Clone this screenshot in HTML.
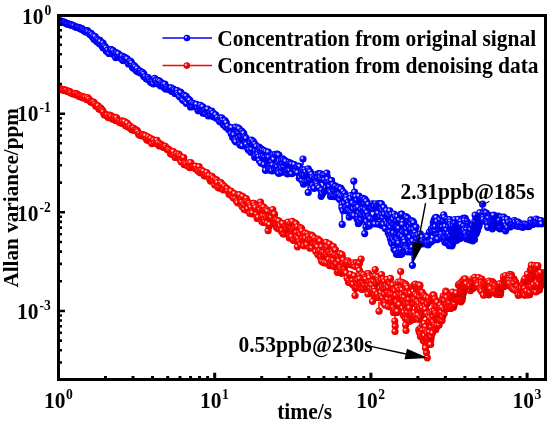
<!DOCTYPE html><html><head><meta charset="utf-8"><style>html,body{margin:0;padding:0;background:#fff;width:550px;height:424px;overflow:hidden}</style></head><body><svg width="550" height="424" viewBox="0 0 550 424" style="display:block"><defs>
<radialGradient id="gb" cx="0.36" cy="0.36" r="0.6"><stop offset="0" stop-color="#ffffff"/><stop offset="0.2" stop-color="#9090ff"/><stop offset="0.42" stop-color="#0000ff"/><stop offset="0.85" stop-color="#0000f4"/><stop offset="1" stop-color="#0000d0"/></radialGradient>
<radialGradient id="gr" cx="0.36" cy="0.36" r="0.6"><stop offset="0" stop-color="#ffffff"/><stop offset="0.2" stop-color="#ff9090"/><stop offset="0.42" stop-color="#ff0000"/><stop offset="0.85" stop-color="#f40000"/><stop offset="1" stop-color="#d00000"/></radialGradient>
<clipPath id="cp"><rect x="60" y="17" width="484" height="361"/></clipPath>
</defs><rect width="550" height="424" fill="#fff"/><g clip-path="url(#cp)"><path d="M261.4 204.4L260.5 202.2M269.6 228.4L268.1 230.7M271.7 212.9L272.7 209.5M297.6 243.0L297.4 246.8M361.9 264.7L361.1 259.0M371.2 296.1L372.5 301.3M375.3 274.6L375.2 269.5M382.8 278.2L381.5 274.5M392.0 281.8L390.5 278.4M429.6 341.4L430.6 344.5M426.5 352.5L427.3 357.8M425.5 348.0L426.5 352.5M425.0 344.0L425.5 348.0M395.0 318.0L395.0 331.5M395.0 318.0L395.2 326.0M395.0 316.0L394.8 321.0M405.5 320.0L406.0 330.5M405.5 320.0L405.6 325.0M379.0 302.0L379.0 311.2M400.0 280.0L400.6 271.5M355.0 288.0L355.0 295.5" stroke="#ff0000" stroke-width="1.6" fill="none"/><g fill="url(#gr)"><circle cx="58.2" cy="88.3" r="3.6"/><circle cx="58.9" cy="88.9" r="3.6"/><circle cx="59.7" cy="88.8" r="3.6"/><circle cx="60.8" cy="89.0" r="3.6"/><circle cx="61.3" cy="89.2" r="3.6"/><circle cx="62.6" cy="89.6" r="3.6"/><circle cx="62.7" cy="90.0" r="3.6"/><circle cx="63.8" cy="89.7" r="3.6"/><circle cx="64.4" cy="89.9" r="3.6"/><circle cx="64.9" cy="90.5" r="3.6"/><circle cx="65.8" cy="90.7" r="3.6"/><circle cx="66.5" cy="90.4" r="3.6"/><circle cx="67.5" cy="91.5" r="3.6"/><circle cx="68.6" cy="91.4" r="3.6"/><circle cx="69.0" cy="91.6" r="3.6"/><circle cx="69.8" cy="91.5" r="3.6"/><circle cx="70.3" cy="92.7" r="3.6"/><circle cx="70.9" cy="93.0" r="3.6"/><circle cx="72.7" cy="93.6" r="3.6"/><circle cx="73.2" cy="94.0" r="3.6"/><circle cx="74.3" cy="93.8" r="3.6"/><circle cx="75.0" cy="93.4" r="3.6"/><circle cx="75.7" cy="93.7" r="3.6"/><circle cx="76.9" cy="95.2" r="3.6"/><circle cx="77.3" cy="94.2" r="3.6"/><circle cx="78.4" cy="95.4" r="3.6"/><circle cx="79.0" cy="96.2" r="3.6"/><circle cx="79.5" cy="96.3" r="3.6"/><circle cx="80.6" cy="96.8" r="3.6"/><circle cx="81.0" cy="96.1" r="3.6"/><circle cx="81.9" cy="96.9" r="3.6"/><circle cx="82.6" cy="96.6" r="3.6"/><circle cx="83.0" cy="97.8" r="3.6"/><circle cx="83.8" cy="97.0" r="3.6"/><circle cx="84.7" cy="97.5" r="3.6"/><circle cx="85.2" cy="97.5" r="3.6"/><circle cx="86.5" cy="99.3" r="3.6"/><circle cx="86.7" cy="99.2" r="3.6"/><circle cx="87.6" cy="97.7" r="3.6"/><circle cx="88.5" cy="100.1" r="3.6"/><circle cx="89.0" cy="99.2" r="3.6"/><circle cx="90.4" cy="101.1" r="3.6"/><circle cx="91.0" cy="102.2" r="3.6"/><circle cx="91.4" cy="101.8" r="3.6"/><circle cx="92.0" cy="102.5" r="3.6"/><circle cx="92.7" cy="102.2" r="3.6"/><circle cx="93.7" cy="102.2" r="3.6"/><circle cx="94.6" cy="104.2" r="3.6"/><circle cx="95.0" cy="104.1" r="3.6"/><circle cx="95.8" cy="106.2" r="3.6"/><circle cx="97.0" cy="105.3" r="3.6"/><circle cx="97.3" cy="106.0" r="3.6"/><circle cx="98.1" cy="105.9" r="3.6"/><circle cx="98.9" cy="109.0" r="3.6"/><circle cx="99.9" cy="109.3" r="3.6"/><circle cx="100.7" cy="108.0" r="3.6"/><circle cx="101.1" cy="108.8" r="3.6"/><circle cx="101.9" cy="109.9" r="3.6"/><circle cx="102.7" cy="110.7" r="3.6"/><circle cx="103.2" cy="112.2" r="3.6"/><circle cx="104.2" cy="114.8" r="3.6"/><circle cx="105.2" cy="114.5" r="3.6"/><circle cx="105.9" cy="114.9" r="3.6"/><circle cx="106.5" cy="115.1" r="3.6"/><circle cx="107.3" cy="115.2" r="3.6"/><circle cx="108.2" cy="117.5" r="3.6"/><circle cx="108.7" cy="117.3" r="3.6"/><circle cx="109.8" cy="115.1" r="3.6"/><circle cx="110.5" cy="118.0" r="3.6"/><circle cx="110.7" cy="115.7" r="3.6"/><circle cx="111.4" cy="116.8" r="3.6"/><circle cx="112.6" cy="119.2" r="3.6"/><circle cx="113.3" cy="117.9" r="3.6"/><circle cx="114.2" cy="117.1" r="3.6"/><circle cx="114.7" cy="117.7" r="3.6"/><circle cx="115.7" cy="120.4" r="3.6"/><circle cx="116.0" cy="117.8" r="3.6"/><circle cx="116.6" cy="117.9" r="3.6"/><circle cx="117.8" cy="120.4" r="3.6"/><circle cx="118.8" cy="121.7" r="3.6"/><circle cx="119.6" cy="121.2" r="3.6"/><circle cx="120.0" cy="122.7" r="3.6"/><circle cx="121.4" cy="123.1" r="3.6"/><circle cx="122.4" cy="120.9" r="3.6"/><circle cx="122.8" cy="121.6" r="3.6"/><circle cx="123.7" cy="123.6" r="3.6"/><circle cx="124.7" cy="121.7" r="3.6"/><circle cx="125.4" cy="125.4" r="3.6"/><circle cx="126.2" cy="125.6" r="3.6"/><circle cx="126.9" cy="126.3" r="3.6"/><circle cx="127.2" cy="123.1" r="3.6"/><circle cx="128.5" cy="127.1" r="3.6"/><circle cx="129.9" cy="125.9" r="3.6"/><circle cx="130.3" cy="128.0" r="3.6"/><circle cx="131.3" cy="129.2" r="3.6"/><circle cx="132.1" cy="129.8" r="3.6"/><circle cx="133.0" cy="129.7" r="3.6"/><circle cx="133.4" cy="128.1" r="3.6"/><circle cx="134.5" cy="130.2" r="3.6"/><circle cx="134.6" cy="130.3" r="3.6"/><circle cx="135.4" cy="129.7" r="3.6"/><circle cx="136.4" cy="130.2" r="3.6"/><circle cx="137.4" cy="130.8" r="3.6"/><circle cx="137.7" cy="131.8" r="3.6"/><circle cx="138.5" cy="134.3" r="3.6"/><circle cx="139.4" cy="133.8" r="3.6"/><circle cx="140.2" cy="135.5" r="3.6"/><circle cx="141.1" cy="135.6" r="3.6"/><circle cx="141.5" cy="135.7" r="3.6"/><circle cx="142.6" cy="134.6" r="3.6"/><circle cx="142.9" cy="135.5" r="3.6"/><circle cx="144.0" cy="135.2" r="3.6"/><circle cx="144.9" cy="136.8" r="3.6"/><circle cx="145.5" cy="135.9" r="3.6"/><circle cx="146.4" cy="139.2" r="3.6"/><circle cx="147.2" cy="140.1" r="3.6"/><circle cx="148.1" cy="139.6" r="3.6"/><circle cx="148.3" cy="137.0" r="3.6"/><circle cx="149.5" cy="141.0" r="3.6"/><circle cx="149.8" cy="139.2" r="3.6"/><circle cx="151.0" cy="138.5" r="3.6"/><circle cx="151.7" cy="143.0" r="3.6"/><circle cx="151.9" cy="143.6" r="3.6"/><circle cx="153.2" cy="139.8" r="3.6"/><circle cx="153.7" cy="140.3" r="3.6"/><circle cx="154.3" cy="142.8" r="3.6"/><circle cx="156.1" cy="140.9" r="3.6"/><circle cx="157.0" cy="140.3" r="3.6"/><circle cx="157.4" cy="143.9" r="3.6"/><circle cx="158.2" cy="142.8" r="3.6"/><circle cx="159.1" cy="145.8" r="3.6"/><circle cx="159.8" cy="145.1" r="3.6"/><circle cx="160.3" cy="143.8" r="3.6"/><circle cx="161.5" cy="144.9" r="3.6"/><circle cx="162.2" cy="145.6" r="3.6"/><circle cx="162.8" cy="146.7" r="3.6"/><circle cx="163.4" cy="147.4" r="3.6"/><circle cx="164.6" cy="146.2" r="3.6"/><circle cx="164.8" cy="146.8" r="3.6"/><circle cx="165.5" cy="146.5" r="3.6"/><circle cx="166.5" cy="148.3" r="3.6"/><circle cx="167.1" cy="149.5" r="3.6"/><circle cx="168.0" cy="148.9" r="3.6"/><circle cx="168.5" cy="149.4" r="3.6"/><circle cx="169.7" cy="150.5" r="3.6"/><circle cx="170.4" cy="153.6" r="3.6"/><circle cx="171.1" cy="151.5" r="3.6"/><circle cx="171.9" cy="154.3" r="3.6"/><circle cx="172.4" cy="151.3" r="3.6"/><circle cx="173.3" cy="151.7" r="3.6"/><circle cx="174.0" cy="155.0" r="3.6"/><circle cx="175.1" cy="157.5" r="3.6"/><circle cx="175.8" cy="155.0" r="3.6"/><circle cx="176.0" cy="157.5" r="3.6"/><circle cx="176.7" cy="153.8" r="3.6"/><circle cx="177.9" cy="156.1" r="3.6"/><circle cx="178.8" cy="154.2" r="3.6"/><circle cx="179.3" cy="155.8" r="3.6"/><circle cx="180.2" cy="159.7" r="3.6"/><circle cx="181.0" cy="156.5" r="3.6"/><circle cx="181.3" cy="162.0" r="3.6"/><circle cx="182.4" cy="157.9" r="3.6"/><circle cx="183.3" cy="157.9" r="3.6"/><circle cx="183.7" cy="157.6" r="3.6"/><circle cx="184.1" cy="164.6" r="3.6"/><circle cx="185.0" cy="162.9" r="3.6"/><circle cx="186.0" cy="163.8" r="3.6"/><circle cx="187.7" cy="166.2" r="3.6"/><circle cx="188.2" cy="163.0" r="3.6"/><circle cx="188.9" cy="163.0" r="3.6"/><circle cx="190.0" cy="167.7" r="3.6"/><circle cx="190.8" cy="162.6" r="3.6"/><circle cx="191.6" cy="166.4" r="3.6"/><circle cx="192.3" cy="166.7" r="3.6"/><circle cx="192.9" cy="166.7" r="3.6"/><circle cx="193.7" cy="167.2" r="3.6"/><circle cx="194.6" cy="166.9" r="3.6"/><circle cx="195.3" cy="168.7" r="3.6"/><circle cx="195.6" cy="166.2" r="3.6"/><circle cx="196.6" cy="169.1" r="3.6"/><circle cx="197.3" cy="170.1" r="3.6"/><circle cx="198.3" cy="171.2" r="3.6"/><circle cx="199.1" cy="166.7" r="3.6"/><circle cx="199.9" cy="172.5" r="3.6"/><circle cx="200.2" cy="170.5" r="3.6"/><circle cx="200.7" cy="172.8" r="3.6"/><circle cx="201.7" cy="170.4" r="3.6"/><circle cx="202.8" cy="171.5" r="3.6"/><circle cx="203.5" cy="171.3" r="3.6"/><circle cx="204.0" cy="174.4" r="3.6"/><circle cx="204.5" cy="175.9" r="3.6"/><circle cx="205.2" cy="174.4" r="3.6"/><circle cx="206.1" cy="175.9" r="3.6"/><circle cx="206.8" cy="172.5" r="3.6"/><circle cx="207.5" cy="175.6" r="3.6"/><circle cx="209.2" cy="175.6" r="3.6"/><circle cx="209.8" cy="179.6" r="3.6"/><circle cx="210.5" cy="181.1" r="3.6"/><circle cx="211.3" cy="179.6" r="3.6"/><circle cx="212.0" cy="176.4" r="3.6"/><circle cx="213.2" cy="178.0" r="3.6"/><circle cx="213.9" cy="181.8" r="3.6"/><circle cx="214.8" cy="185.0" r="3.6"/><circle cx="215.2" cy="179.4" r="3.6"/><circle cx="215.9" cy="181.3" r="3.6"/><circle cx="216.9" cy="180.2" r="3.6"/><circle cx="217.3" cy="182.7" r="3.6"/><circle cx="218.0" cy="187.4" r="3.6"/><circle cx="219.3" cy="188.1" r="3.6"/><circle cx="219.7" cy="187.5" r="3.6"/><circle cx="220.9" cy="182.7" r="3.6"/><circle cx="221.7" cy="186.3" r="3.6"/><circle cx="222.4" cy="184.5" r="3.6"/><circle cx="223.4" cy="190.0" r="3.6"/><circle cx="224.5" cy="186.3" r="3.6"/><circle cx="225.3" cy="189.6" r="3.6"/><circle cx="225.5" cy="188.6" r="3.6"/><circle cx="226.2" cy="188.7" r="3.6"/><circle cx="227.3" cy="188.6" r="3.6"/><circle cx="228.0" cy="191.0" r="3.6"/><circle cx="229.0" cy="194.3" r="3.6"/><circle cx="229.8" cy="193.6" r="3.6"/><circle cx="230.1" cy="191.6" r="3.6"/><circle cx="231.1" cy="191.1" r="3.6"/><circle cx="231.6" cy="195.8" r="3.6"/><circle cx="232.7" cy="196.6" r="3.6"/><circle cx="233.5" cy="194.6" r="3.6"/><circle cx="233.7" cy="198.2" r="3.6"/><circle cx="234.5" cy="193.6" r="3.6"/><circle cx="235.7" cy="198.9" r="3.6"/><circle cx="236.5" cy="200.8" r="3.6"/><circle cx="236.9" cy="201.6" r="3.6"/><circle cx="237.7" cy="202.8" r="3.6"/><circle cx="238.3" cy="194.8" r="3.6"/><circle cx="239.6" cy="194.8" r="3.6"/><circle cx="240.3" cy="198.8" r="3.6"/><circle cx="240.9" cy="203.3" r="3.6"/><circle cx="240.8" cy="202.3" r="3.6"/><circle cx="241.3" cy="198.8" r="3.6"/><circle cx="241.6" cy="203.3" r="3.6"/><circle cx="242.1" cy="206.5" r="3.6"/><circle cx="241.9" cy="202.3" r="3.6"/><circle cx="242.7" cy="196.4" r="3.6"/><circle cx="244.1" cy="203.7" r="3.6"/><circle cx="243.6" cy="203.9" r="3.6"/><circle cx="244.2" cy="209.4" r="3.6"/><circle cx="244.9" cy="205.2" r="3.6"/><circle cx="246.3" cy="198.6" r="3.6"/><circle cx="246.1" cy="201.8" r="3.6"/><circle cx="247.1" cy="210.5" r="3.6"/><circle cx="247.6" cy="201.9" r="3.6"/><circle cx="247.5" cy="204.1" r="3.6"/><circle cx="248.4" cy="203.1" r="3.6"/><circle cx="247.9" cy="208.8" r="3.6"/><circle cx="249.3" cy="203.3" r="3.6"/><circle cx="249.9" cy="213.4" r="3.6"/><circle cx="250.5" cy="205.1" r="3.6"/><circle cx="250.9" cy="207.0" r="3.6"/><circle cx="252.3" cy="211.6" r="3.6"/><circle cx="252.0" cy="213.9" r="3.6"/><circle cx="252.4" cy="212.8" r="3.6"/><circle cx="253.1" cy="203.3" r="3.6"/><circle cx="253.8" cy="203.6" r="3.6"/><circle cx="254.6" cy="207.8" r="3.6"/><circle cx="254.0" cy="203.4" r="3.6"/><circle cx="254.7" cy="205.5" r="3.6"/><circle cx="255.7" cy="207.4" r="3.6"/><circle cx="256.6" cy="213.3" r="3.6"/><circle cx="256.6" cy="214.1" r="3.6"/><circle cx="257.2" cy="217.9" r="3.6"/><circle cx="257.1" cy="218.5" r="3.6"/><circle cx="258.3" cy="217.3" r="3.6"/><circle cx="258.3" cy="210.2" r="3.6"/><circle cx="259.0" cy="208.5" r="3.6"/><circle cx="259.0" cy="205.9" r="3.6"/><circle cx="259.8" cy="207.0" r="3.6"/><circle cx="260.5" cy="202.2" r="3.6"/><circle cx="260.0" cy="209.6" r="3.6"/><circle cx="261.1" cy="205.3" r="3.6"/><circle cx="261.3" cy="218.6" r="3.6"/><circle cx="261.9" cy="221.4" r="3.6"/><circle cx="261.6" cy="217.2" r="3.6"/><circle cx="262.3" cy="207.6" r="3.6"/><circle cx="263.0" cy="222.5" r="3.6"/><circle cx="263.0" cy="215.7" r="3.6"/><circle cx="263.8" cy="207.0" r="3.6"/><circle cx="264.1" cy="210.8" r="3.6"/><circle cx="265.0" cy="216.7" r="3.6"/><circle cx="264.5" cy="220.2" r="3.6"/><circle cx="265.1" cy="221.9" r="3.6"/><circle cx="265.2" cy="210.0" r="3.6"/><circle cx="265.9" cy="210.0" r="3.6"/><circle cx="266.4" cy="217.8" r="3.6"/><circle cx="266.8" cy="209.8" r="3.6"/><circle cx="267.2" cy="223.1" r="3.6"/><circle cx="268.1" cy="216.7" r="3.6"/><circle cx="267.6" cy="211.3" r="3.6"/><circle cx="268.5" cy="217.7" r="3.6"/><circle cx="268.1" cy="230.7" r="3.6"/><circle cx="269.2" cy="217.3" r="3.6"/><circle cx="269.1" cy="226.2" r="3.6"/><circle cx="269.7" cy="224.5" r="3.6"/><circle cx="270.1" cy="218.1" r="3.6"/><circle cx="270.7" cy="217.8" r="3.6"/><circle cx="270.7" cy="212.1" r="3.6"/><circle cx="271.5" cy="217.3" r="3.6"/><circle cx="272.1" cy="212.4" r="3.6"/><circle cx="272.7" cy="209.5" r="3.6"/><circle cx="274.1" cy="215.0" r="3.6"/><circle cx="274.5" cy="214.0" r="3.6"/><circle cx="275.3" cy="222.8" r="3.6"/><circle cx="276.3" cy="227.3" r="3.6"/><circle cx="275.9" cy="219.8" r="3.6"/><circle cx="276.7" cy="221.8" r="3.6"/><circle cx="276.4" cy="224.5" r="3.6"/><circle cx="277.8" cy="223.1" r="3.6"/><circle cx="277.2" cy="220.3" r="3.6"/><circle cx="278.6" cy="223.4" r="3.6"/><circle cx="278.0" cy="228.7" r="3.6"/><circle cx="279.3" cy="228.9" r="3.6"/><circle cx="278.9" cy="220.9" r="3.6"/><circle cx="279.7" cy="224.9" r="3.6"/><circle cx="280.3" cy="226.0" r="3.6"/><circle cx="281.3" cy="230.3" r="3.6"/><circle cx="281.7" cy="231.7" r="3.6"/><circle cx="282.3" cy="230.7" r="3.6"/><circle cx="282.8" cy="223.7" r="3.6"/><circle cx="282.6" cy="223.4" r="3.6"/><circle cx="283.2" cy="234.0" r="3.6"/><circle cx="284.1" cy="233.8" r="3.6"/><circle cx="285.0" cy="230.3" r="3.6"/><circle cx="285.4" cy="228.9" r="3.6"/><circle cx="285.8" cy="226.2" r="3.6"/><circle cx="286.8" cy="228.3" r="3.6"/><circle cx="287.2" cy="223.2" r="3.6"/><circle cx="286.9" cy="229.6" r="3.6"/><circle cx="288.0" cy="222.8" r="3.6"/><circle cx="288.2" cy="222.1" r="3.6"/><circle cx="288.5" cy="228.3" r="3.6"/><circle cx="288.8" cy="226.6" r="3.6"/><circle cx="289.6" cy="226.8" r="3.6"/><circle cx="289.3" cy="238.0" r="3.6"/><circle cx="290.5" cy="236.6" r="3.6"/><circle cx="290.0" cy="227.5" r="3.6"/><circle cx="290.8" cy="227.2" r="3.6"/><circle cx="290.7" cy="223.4" r="3.6"/><circle cx="291.5" cy="233.7" r="3.6"/><circle cx="291.7" cy="236.7" r="3.6"/><circle cx="292.2" cy="230.3" r="3.6"/><circle cx="292.3" cy="221.4" r="3.6"/><circle cx="292.9" cy="230.7" r="3.6"/><circle cx="293.1" cy="239.7" r="3.6"/><circle cx="293.7" cy="229.5" r="3.6"/><circle cx="293.7" cy="240.5" r="3.6"/><circle cx="295.0" cy="227.2" r="3.6"/><circle cx="295.1" cy="223.1" r="3.6"/><circle cx="295.4" cy="240.2" r="3.6"/><circle cx="295.8" cy="239.8" r="3.6"/><circle cx="295.9" cy="233.6" r="3.6"/><circle cx="296.2" cy="223.9" r="3.6"/><circle cx="296.7" cy="232.6" r="3.6"/><circle cx="296.8" cy="237.3" r="3.6"/><circle cx="297.4" cy="226.8" r="3.6"/><circle cx="297.4" cy="246.8" r="3.6"/><circle cx="298.5" cy="241.4" r="3.6"/><circle cx="298.2" cy="238.2" r="3.6"/><circle cx="299.5" cy="241.3" r="3.6"/><circle cx="299.1" cy="232.3" r="3.6"/><circle cx="299.9" cy="228.0" r="3.6"/><circle cx="300.2" cy="234.4" r="3.6"/><circle cx="300.5" cy="227.6" r="3.6"/><circle cx="300.6" cy="244.4" r="3.6"/><circle cx="301.8" cy="240.5" r="3.6"/><circle cx="301.6" cy="228.7" r="3.6"/><circle cx="302.6" cy="241.3" r="3.6"/><circle cx="301.9" cy="230.9" r="3.6"/><circle cx="302.7" cy="236.9" r="3.6"/><circle cx="302.7" cy="238.5" r="3.6"/><circle cx="304.0" cy="246.0" r="3.6"/><circle cx="304.0" cy="233.8" r="3.6"/><circle cx="304.6" cy="238.9" r="3.6"/><circle cx="305.3" cy="233.2" r="3.6"/><circle cx="305.5" cy="238.0" r="3.6"/><circle cx="306.3" cy="244.4" r="3.6"/><circle cx="306.7" cy="244.3" r="3.6"/><circle cx="307.0" cy="244.6" r="3.6"/><circle cx="307.6" cy="234.0" r="3.6"/><circle cx="308.3" cy="236.2" r="3.6"/><circle cx="309.0" cy="240.2" r="3.6"/><circle cx="309.8" cy="248.1" r="3.6"/><circle cx="310.6" cy="239.0" r="3.6"/><circle cx="311.4" cy="247.5" r="3.6"/><circle cx="311.1" cy="235.0" r="3.6"/><circle cx="311.9" cy="235.4" r="3.6"/><circle cx="311.8" cy="247.9" r="3.6"/><circle cx="312.5" cy="236.2" r="3.6"/><circle cx="312.9" cy="240.4" r="3.6"/><circle cx="313.4" cy="243.4" r="3.6"/><circle cx="314.1" cy="239.9" r="3.6"/><circle cx="315.0" cy="240.4" r="3.6"/><circle cx="314.7" cy="238.2" r="3.6"/><circle cx="315.8" cy="251.5" r="3.6"/><circle cx="316.0" cy="243.3" r="3.6"/><circle cx="316.7" cy="239.8" r="3.6"/><circle cx="317.4" cy="246.9" r="3.6"/><circle cx="317.8" cy="254.6" r="3.6"/><circle cx="318.0" cy="239.2" r="3.6"/><circle cx="318.6" cy="251.4" r="3.6"/><circle cx="318.8" cy="240.7" r="3.6"/><circle cx="319.2" cy="240.6" r="3.6"/><circle cx="320.1" cy="250.2" r="3.6"/><circle cx="320.1" cy="241.1" r="3.6"/><circle cx="320.8" cy="258.2" r="3.6"/><circle cx="321.2" cy="256.5" r="3.6"/><circle cx="321.7" cy="246.7" r="3.6"/><circle cx="321.6" cy="261.2" r="3.6"/><circle cx="322.3" cy="252.4" r="3.6"/><circle cx="322.7" cy="261.9" r="3.6"/><circle cx="323.2" cy="255.2" r="3.6"/><circle cx="323.6" cy="255.1" r="3.6"/><circle cx="324.3" cy="263.0" r="3.6"/><circle cx="324.0" cy="252.3" r="3.6"/><circle cx="324.9" cy="246.7" r="3.6"/><circle cx="324.6" cy="262.4" r="3.6"/><circle cx="325.7" cy="243.8" r="3.6"/><circle cx="325.9" cy="242.7" r="3.6"/><circle cx="326.2" cy="242.3" r="3.6"/><circle cx="326.3" cy="254.0" r="3.6"/><circle cx="326.0" cy="249.5" r="3.6"/><circle cx="326.7" cy="246.5" r="3.6"/><circle cx="327.0" cy="249.7" r="3.6"/><circle cx="326.7" cy="262.9" r="3.6"/><circle cx="327.8" cy="246.9" r="3.6"/><circle cx="327.9" cy="256.3" r="3.6"/><circle cx="328.9" cy="264.3" r="3.6"/><circle cx="328.8" cy="252.6" r="3.6"/><circle cx="329.2" cy="256.9" r="3.6"/><circle cx="328.9" cy="259.4" r="3.6"/><circle cx="329.7" cy="265.7" r="3.6"/><circle cx="330.0" cy="253.5" r="3.6"/><circle cx="329.7" cy="244.0" r="3.6"/><circle cx="330.4" cy="264.4" r="3.6"/><circle cx="330.7" cy="254.2" r="3.6"/><circle cx="331.7" cy="264.5" r="3.6"/><circle cx="331.6" cy="260.0" r="3.6"/><circle cx="332.1" cy="251.8" r="3.6"/><circle cx="332.0" cy="261.5" r="3.6"/><circle cx="333.4" cy="246.6" r="3.6"/><circle cx="332.7" cy="253.7" r="3.6"/><circle cx="333.4" cy="260.2" r="3.6"/><circle cx="334.0" cy="266.6" r="3.6"/><circle cx="334.4" cy="255.3" r="3.6"/><circle cx="334.6" cy="249.4" r="3.6"/><circle cx="335.1" cy="263.6" r="3.6"/><circle cx="335.5" cy="250.0" r="3.6"/><circle cx="336.2" cy="262.2" r="3.6"/><circle cx="335.7" cy="255.3" r="3.6"/><circle cx="337.1" cy="261.8" r="3.6"/><circle cx="336.6" cy="263.4" r="3.6"/><circle cx="337.3" cy="272.3" r="3.6"/><circle cx="337.5" cy="255.9" r="3.6"/><circle cx="337.3" cy="258.9" r="3.6"/><circle cx="338.0" cy="256.5" r="3.6"/><circle cx="338.4" cy="271.3" r="3.6"/><circle cx="338.8" cy="256.5" r="3.6"/><circle cx="339.0" cy="260.9" r="3.6"/><circle cx="340.1" cy="253.7" r="3.6"/><circle cx="339.7" cy="268.6" r="3.6"/><circle cx="340.4" cy="267.6" r="3.6"/><circle cx="340.5" cy="269.7" r="3.6"/><circle cx="341.5" cy="273.3" r="3.6"/><circle cx="341.4" cy="256.8" r="3.6"/><circle cx="341.2" cy="271.2" r="3.6"/><circle cx="342.2" cy="256.9" r="3.6"/><circle cx="342.0" cy="254.5" r="3.6"/><circle cx="342.7" cy="270.9" r="3.6"/><circle cx="342.9" cy="269.6" r="3.6"/><circle cx="343.4" cy="259.7" r="3.6"/><circle cx="343.3" cy="259.9" r="3.6"/><circle cx="343.2" cy="263.8" r="3.6"/><circle cx="344.4" cy="268.6" r="3.6"/><circle cx="344.5" cy="268.3" r="3.6"/><circle cx="345.2" cy="272.3" r="3.6"/><circle cx="344.9" cy="263.0" r="3.6"/><circle cx="345.6" cy="264.7" r="3.6"/><circle cx="346.0" cy="262.0" r="3.6"/><circle cx="346.7" cy="264.2" r="3.6"/><circle cx="346.3" cy="273.0" r="3.6"/><circle cx="347.1" cy="278.2" r="3.6"/><circle cx="347.1" cy="264.3" r="3.6"/><circle cx="348.0" cy="260.8" r="3.6"/><circle cx="347.7" cy="262.6" r="3.6"/><circle cx="348.5" cy="282.3" r="3.6"/><circle cx="349.0" cy="280.4" r="3.6"/><circle cx="349.3" cy="264.0" r="3.6"/><circle cx="349.9" cy="276.1" r="3.6"/><circle cx="350.4" cy="263.4" r="3.6"/><circle cx="350.4" cy="282.4" r="3.6"/><circle cx="350.7" cy="274.3" r="3.6"/><circle cx="350.9" cy="283.0" r="3.6"/><circle cx="352.0" cy="265.2" r="3.6"/><circle cx="351.7" cy="263.6" r="3.6"/><circle cx="352.6" cy="280.8" r="3.6"/><circle cx="352.2" cy="283.7" r="3.6"/><circle cx="352.7" cy="284.5" r="3.6"/><circle cx="353.0" cy="284.3" r="3.6"/><circle cx="353.3" cy="284.2" r="3.6"/><circle cx="353.4" cy="262.8" r="3.6"/><circle cx="354.2" cy="275.8" r="3.6"/><circle cx="354.2" cy="264.5" r="3.6"/><circle cx="355.1" cy="287.6" r="3.6"/><circle cx="355.1" cy="266.5" r="3.6"/><circle cx="355.8" cy="280.5" r="3.6"/><circle cx="355.3" cy="288.3" r="3.6"/><circle cx="356.4" cy="262.7" r="3.6"/><circle cx="356.5" cy="288.0" r="3.6"/><circle cx="356.2" cy="282.0" r="3.6"/><circle cx="356.8" cy="280.6" r="3.6"/><circle cx="356.9" cy="283.1" r="3.6"/><circle cx="357.0" cy="287.4" r="3.6"/><circle cx="357.7" cy="283.6" r="3.6"/><circle cx="357.9" cy="280.0" r="3.6"/><circle cx="358.0" cy="267.6" r="3.6"/><circle cx="358.4" cy="262.9" r="3.6"/><circle cx="358.2" cy="267.1" r="3.6"/><circle cx="359.5" cy="270.5" r="3.6"/><circle cx="359.1" cy="285.4" r="3.6"/><circle cx="359.5" cy="263.0" r="3.6"/><circle cx="360.3" cy="283.7" r="3.6"/><circle cx="360.0" cy="278.7" r="3.6"/><circle cx="361.1" cy="287.0" r="3.6"/><circle cx="361.1" cy="259.0" r="3.6"/><circle cx="361.7" cy="288.7" r="3.6"/><circle cx="361.7" cy="289.3" r="3.6"/><circle cx="361.8" cy="284.0" r="3.6"/><circle cx="362.6" cy="285.3" r="3.6"/><circle cx="362.5" cy="284.9" r="3.6"/><circle cx="361.9" cy="274.1" r="3.6"/><circle cx="363.2" cy="278.7" r="3.6"/><circle cx="363.1" cy="282.5" r="3.6"/><circle cx="363.1" cy="289.1" r="3.6"/><circle cx="363.8" cy="288.3" r="3.6"/><circle cx="363.7" cy="274.7" r="3.6"/><circle cx="364.5" cy="284.9" r="3.6"/><circle cx="364.1" cy="278.7" r="3.6"/><circle cx="365.4" cy="276.7" r="3.6"/><circle cx="365.3" cy="281.1" r="3.6"/><circle cx="365.3" cy="279.0" r="3.6"/><circle cx="365.9" cy="279.9" r="3.6"/><circle cx="365.9" cy="278.9" r="3.6"/><circle cx="366.6" cy="288.4" r="3.6"/><circle cx="366.8" cy="286.6" r="3.6"/><circle cx="367.6" cy="284.4" r="3.6"/><circle cx="367.3" cy="273.5" r="3.6"/><circle cx="368.6" cy="273.5" r="3.6"/><circle cx="368.1" cy="285.1" r="3.6"/><circle cx="367.9" cy="294.0" r="3.6"/><circle cx="368.9" cy="281.4" r="3.6"/><circle cx="369.2" cy="275.9" r="3.6"/><circle cx="369.5" cy="277.8" r="3.6"/><circle cx="370.0" cy="287.2" r="3.6"/><circle cx="370.2" cy="288.5" r="3.6"/><circle cx="370.8" cy="284.3" r="3.6"/><circle cx="370.3" cy="288.4" r="3.6"/><circle cx="371.0" cy="290.9" r="3.6"/><circle cx="371.6" cy="281.6" r="3.6"/><circle cx="372.4" cy="285.2" r="3.6"/><circle cx="371.8" cy="285.0" r="3.6"/><circle cx="372.5" cy="289.4" r="3.6"/><circle cx="372.5" cy="301.3" r="3.6"/><circle cx="373.6" cy="293.6" r="3.6"/><circle cx="373.6" cy="281.0" r="3.6"/><circle cx="373.7" cy="276.2" r="3.6"/><circle cx="374.5" cy="294.5" r="3.6"/><circle cx="374.3" cy="288.1" r="3.6"/><circle cx="375.2" cy="269.5" r="3.6"/><circle cx="375.0" cy="291.3" r="3.6"/><circle cx="375.6" cy="276.8" r="3.6"/><circle cx="375.4" cy="283.6" r="3.6"/><circle cx="375.6" cy="276.0" r="3.6"/><circle cx="376.6" cy="282.7" r="3.6"/><circle cx="376.3" cy="297.0" r="3.6"/><circle cx="377.0" cy="297.4" r="3.6"/><circle cx="377.5" cy="294.3" r="3.6"/><circle cx="378.1" cy="281.3" r="3.6"/><circle cx="378.0" cy="278.2" r="3.6"/><circle cx="377.7" cy="277.1" r="3.6"/><circle cx="378.5" cy="296.9" r="3.6"/><circle cx="378.5" cy="279.8" r="3.6"/><circle cx="379.3" cy="297.7" r="3.6"/><circle cx="379.4" cy="281.4" r="3.6"/><circle cx="380.6" cy="295.1" r="3.6"/><circle cx="380.3" cy="288.3" r="3.6"/><circle cx="381.0" cy="292.7" r="3.6"/><circle cx="381.3" cy="279.9" r="3.6"/><circle cx="381.5" cy="274.5" r="3.6"/><circle cx="381.5" cy="296.4" r="3.6"/><circle cx="382.8" cy="285.7" r="3.6"/><circle cx="382.4" cy="297.8" r="3.6"/><circle cx="382.5" cy="286.8" r="3.6"/><circle cx="383.2" cy="279.1" r="3.6"/><circle cx="383.6" cy="302.9" r="3.6"/><circle cx="384.0" cy="289.9" r="3.6"/><circle cx="384.3" cy="293.9" r="3.6"/><circle cx="384.3" cy="285.7" r="3.6"/><circle cx="384.5" cy="289.0" r="3.6"/><circle cx="384.5" cy="281.3" r="3.6"/><circle cx="384.5" cy="302.1" r="3.6"/><circle cx="385.4" cy="303.0" r="3.6"/><circle cx="385.8" cy="285.9" r="3.6"/><circle cx="385.1" cy="305.2" r="3.6"/><circle cx="386.1" cy="290.2" r="3.6"/><circle cx="386.3" cy="289.5" r="3.6"/><circle cx="386.2" cy="285.7" r="3.6"/><circle cx="387.2" cy="289.6" r="3.6"/><circle cx="386.7" cy="288.3" r="3.6"/><circle cx="387.1" cy="279.3" r="3.6"/><circle cx="387.9" cy="299.2" r="3.6"/><circle cx="387.8" cy="292.9" r="3.6"/><circle cx="388.5" cy="306.6" r="3.6"/><circle cx="388.2" cy="285.6" r="3.6"/><circle cx="388.2" cy="287.3" r="3.6"/><circle cx="389.6" cy="293.5" r="3.6"/><circle cx="389.2" cy="281.9" r="3.6"/><circle cx="389.2" cy="281.7" r="3.6"/><circle cx="389.7" cy="295.1" r="3.6"/><circle cx="390.2" cy="284.0" r="3.6"/><circle cx="390.8" cy="294.5" r="3.6"/><circle cx="390.5" cy="278.4" r="3.6"/><circle cx="390.7" cy="306.8" r="3.6"/><circle cx="391.6" cy="304.1" r="3.6"/><circle cx="391.8" cy="285.1" r="3.6"/><circle cx="391.3" cy="300.1" r="3.6"/><circle cx="392.3" cy="301.6" r="3.6"/><circle cx="391.9" cy="286.8" r="3.6"/><circle cx="393.1" cy="293.9" r="3.6"/><circle cx="393.4" cy="307.5" r="3.6"/><circle cx="392.8" cy="285.0" r="3.6"/><circle cx="394.1" cy="290.0" r="3.6"/><circle cx="393.5" cy="312.4" r="3.6"/><circle cx="393.8" cy="300.3" r="3.6"/><circle cx="394.4" cy="309.6" r="3.6"/><circle cx="394.9" cy="297.8" r="3.6"/><circle cx="394.8" cy="299.6" r="3.6"/><circle cx="394.6" cy="297.4" r="3.6"/><circle cx="395.3" cy="295.2" r="3.6"/><circle cx="395.2" cy="291.8" r="3.6"/><circle cx="395.1" cy="290.6" r="3.6"/><circle cx="395.0" cy="311.1" r="3.6"/><circle cx="395.7" cy="297.6" r="3.6"/><circle cx="396.4" cy="304.7" r="3.6"/><circle cx="396.0" cy="295.4" r="3.6"/><circle cx="396.2" cy="311.4" r="3.6"/><circle cx="396.7" cy="303.5" r="3.6"/><circle cx="396.5" cy="284.0" r="3.6"/><circle cx="396.7" cy="301.9" r="3.6"/><circle cx="396.9" cy="312.7" r="3.6"/><circle cx="397.6" cy="286.4" r="3.6"/><circle cx="397.5" cy="311.5" r="3.6"/><circle cx="397.6" cy="287.9" r="3.6"/><circle cx="398.0" cy="291.6" r="3.6"/><circle cx="398.1" cy="282.0" r="3.6"/><circle cx="398.2" cy="304.2" r="3.6"/><circle cx="398.6" cy="290.5" r="3.6"/><circle cx="399.3" cy="298.8" r="3.6"/><circle cx="399.1" cy="293.8" r="3.6"/><circle cx="400.1" cy="301.0" r="3.6"/><circle cx="399.7" cy="289.7" r="3.6"/><circle cx="399.4" cy="304.5" r="3.6"/><circle cx="400.5" cy="297.2" r="3.6"/><circle cx="400.5" cy="281.8" r="3.6"/><circle cx="400.4" cy="296.4" r="3.6"/><circle cx="401.2" cy="298.1" r="3.6"/><circle cx="401.4" cy="298.5" r="3.6"/><circle cx="401.6" cy="287.6" r="3.6"/><circle cx="402.1" cy="289.9" r="3.6"/><circle cx="402.0" cy="294.6" r="3.6"/><circle cx="402.3" cy="310.6" r="3.6"/><circle cx="402.5" cy="297.2" r="3.6"/><circle cx="402.7" cy="308.2" r="3.6"/><circle cx="402.7" cy="282.7" r="3.6"/><circle cx="403.4" cy="284.5" r="3.6"/><circle cx="403.4" cy="300.2" r="3.6"/><circle cx="403.5" cy="315.6" r="3.6"/><circle cx="404.5" cy="292.8" r="3.6"/><circle cx="404.2" cy="297.1" r="3.6"/><circle cx="404.6" cy="285.2" r="3.6"/><circle cx="404.1" cy="312.4" r="3.6"/><circle cx="405.2" cy="283.9" r="3.6"/><circle cx="404.9" cy="291.9" r="3.6"/><circle cx="405.3" cy="305.4" r="3.6"/><circle cx="405.4" cy="318.4" r="3.6"/><circle cx="405.7" cy="284.5" r="3.6"/><circle cx="405.8" cy="288.6" r="3.6"/><circle cx="406.4" cy="285.8" r="3.6"/><circle cx="406.1" cy="303.9" r="3.6"/><circle cx="406.9" cy="310.2" r="3.6"/><circle cx="406.2" cy="314.7" r="3.6"/><circle cx="406.9" cy="305.5" r="3.6"/><circle cx="407.3" cy="316.5" r="3.6"/><circle cx="407.0" cy="292.3" r="3.6"/><circle cx="407.6" cy="312.6" r="3.6"/><circle cx="407.6" cy="318.8" r="3.6"/><circle cx="407.9" cy="304.9" r="3.6"/><circle cx="407.8" cy="288.0" r="3.6"/><circle cx="407.6" cy="300.5" r="3.6"/><circle cx="408.6" cy="303.2" r="3.6"/><circle cx="408.7" cy="294.2" r="3.6"/><circle cx="408.5" cy="308.1" r="3.6"/><circle cx="409.1" cy="299.5" r="3.6"/><circle cx="409.4" cy="308.0" r="3.6"/><circle cx="409.5" cy="315.8" r="3.6"/><circle cx="409.3" cy="321.3" r="3.6"/><circle cx="410.5" cy="292.6" r="3.6"/><circle cx="410.6" cy="294.9" r="3.6"/><circle cx="409.9" cy="314.1" r="3.6"/><circle cx="410.4" cy="293.3" r="3.6"/><circle cx="410.7" cy="313.6" r="3.6"/><circle cx="410.8" cy="320.6" r="3.6"/><circle cx="411.1" cy="313.6" r="3.6"/><circle cx="412.0" cy="300.1" r="3.6"/><circle cx="411.4" cy="315.8" r="3.6"/><circle cx="411.7" cy="318.0" r="3.6"/><circle cx="411.4" cy="314.8" r="3.6"/><circle cx="412.4" cy="314.5" r="3.6"/><circle cx="412.9" cy="300.3" r="3.6"/><circle cx="412.7" cy="287.5" r="3.6"/><circle cx="412.7" cy="317.9" r="3.6"/><circle cx="413.4" cy="303.4" r="3.6"/><circle cx="413.2" cy="318.4" r="3.6"/><circle cx="413.2" cy="315.5" r="3.6"/><circle cx="413.4" cy="291.5" r="3.6"/><circle cx="414.3" cy="319.3" r="3.6"/><circle cx="413.6" cy="299.6" r="3.6"/><circle cx="413.8" cy="285.4" r="3.6"/><circle cx="414.9" cy="316.4" r="3.6"/><circle cx="414.8" cy="284.8" r="3.6"/><circle cx="414.4" cy="312.7" r="3.6"/><circle cx="414.9" cy="299.0" r="3.6"/><circle cx="415.3" cy="294.2" r="3.6"/><circle cx="415.7" cy="301.8" r="3.6"/><circle cx="415.5" cy="285.7" r="3.6"/><circle cx="415.4" cy="284.2" r="3.6"/><circle cx="416.3" cy="287.3" r="3.6"/><circle cx="416.2" cy="315.3" r="3.6"/><circle cx="416.5" cy="302.8" r="3.6"/><circle cx="416.5" cy="288.7" r="3.6"/><circle cx="416.8" cy="295.7" r="3.6"/><circle cx="417.2" cy="318.5" r="3.6"/><circle cx="417.0" cy="285.9" r="3.6"/><circle cx="417.3" cy="309.9" r="3.6"/><circle cx="417.9" cy="310.3" r="3.6"/><circle cx="417.5" cy="301.7" r="3.6"/><circle cx="417.7" cy="306.8" r="3.6"/><circle cx="417.5" cy="287.6" r="3.6"/><circle cx="418.1" cy="315.2" r="3.6"/><circle cx="418.8" cy="308.6" r="3.6"/><circle cx="418.2" cy="287.0" r="3.6"/><circle cx="418.8" cy="284.8" r="3.6"/><circle cx="418.8" cy="329.7" r="3.6"/><circle cx="418.9" cy="319.5" r="3.6"/><circle cx="418.9" cy="303.4" r="3.6"/><circle cx="419.2" cy="296.4" r="3.6"/><circle cx="419.2" cy="332.1" r="3.6"/><circle cx="419.5" cy="307.0" r="3.6"/><circle cx="420.0" cy="285.4" r="3.6"/><circle cx="420.3" cy="308.8" r="3.6"/><circle cx="420.1" cy="291.1" r="3.6"/><circle cx="419.9" cy="292.5" r="3.6"/><circle cx="419.9" cy="329.4" r="3.6"/><circle cx="420.7" cy="335.5" r="3.6"/><circle cx="420.5" cy="317.0" r="3.6"/><circle cx="420.8" cy="333.8" r="3.6"/><circle cx="420.7" cy="327.8" r="3.6"/><circle cx="420.5" cy="336.5" r="3.6"/><circle cx="421.6" cy="336.8" r="3.6"/><circle cx="421.4" cy="300.8" r="3.6"/><circle cx="421.2" cy="304.6" r="3.6"/><circle cx="421.6" cy="300.5" r="3.6"/><circle cx="421.2" cy="292.2" r="3.6"/><circle cx="422.2" cy="292.4" r="3.6"/><circle cx="422.5" cy="314.6" r="3.6"/><circle cx="422.4" cy="325.2" r="3.6"/><circle cx="422.4" cy="307.7" r="3.6"/><circle cx="422.6" cy="330.3" r="3.6"/><circle cx="423.3" cy="301.7" r="3.6"/><circle cx="423.3" cy="333.9" r="3.6"/><circle cx="423.2" cy="340.6" r="3.6"/><circle cx="422.6" cy="337.2" r="3.6"/><circle cx="422.8" cy="297.2" r="3.6"/><circle cx="424.0" cy="336.3" r="3.6"/><circle cx="423.8" cy="313.6" r="3.6"/><circle cx="424.0" cy="295.2" r="3.6"/><circle cx="423.4" cy="333.7" r="3.6"/><circle cx="423.6" cy="311.1" r="3.6"/><circle cx="424.2" cy="333.4" r="3.6"/><circle cx="424.8" cy="310.6" r="3.6"/><circle cx="424.2" cy="325.3" r="3.6"/><circle cx="424.2" cy="323.3" r="3.6"/><circle cx="424.6" cy="335.5" r="3.6"/><circle cx="425.2" cy="306.4" r="3.6"/><circle cx="425.6" cy="326.7" r="3.6"/><circle cx="425.1" cy="330.3" r="3.6"/><circle cx="424.9" cy="296.5" r="3.6"/><circle cx="425.4" cy="309.1" r="3.6"/><circle cx="426.0" cy="345.2" r="3.6"/><circle cx="425.7" cy="343.1" r="3.6"/><circle cx="425.9" cy="344.3" r="3.6"/><circle cx="426.3" cy="344.3" r="3.6"/><circle cx="426.0" cy="297.2" r="3.6"/><circle cx="427.0" cy="338.7" r="3.6"/><circle cx="426.9" cy="331.1" r="3.6"/><circle cx="427.0" cy="332.0" r="3.6"/><circle cx="426.8" cy="345.0" r="3.6"/><circle cx="426.7" cy="313.7" r="3.6"/><circle cx="427.4" cy="344.5" r="3.6"/><circle cx="427.6" cy="344.5" r="3.6"/><circle cx="427.2" cy="303.8" r="3.6"/><circle cx="427.5" cy="337.4" r="3.6"/><circle cx="427.5" cy="333.6" r="3.6"/><circle cx="427.9" cy="342.7" r="3.6"/><circle cx="428.5" cy="315.5" r="3.6"/><circle cx="428.4" cy="322.2" r="3.6"/><circle cx="428.5" cy="298.1" r="3.6"/><circle cx="428.5" cy="340.3" r="3.6"/><circle cx="428.7" cy="340.8" r="3.6"/><circle cx="429.1" cy="340.4" r="3.6"/><circle cx="429.4" cy="321.6" r="3.6"/><circle cx="429.2" cy="301.0" r="3.6"/><circle cx="429.5" cy="332.1" r="3.6"/><circle cx="430.0" cy="301.0" r="3.6"/><circle cx="430.1" cy="313.0" r="3.6"/><circle cx="429.6" cy="317.8" r="3.6"/><circle cx="429.9" cy="322.3" r="3.6"/><circle cx="430.6" cy="340.7" r="3.6"/><circle cx="430.8" cy="338.9" r="3.6"/><circle cx="430.6" cy="344.5" r="3.6"/><circle cx="430.8" cy="336.4" r="3.6"/><circle cx="430.4" cy="327.0" r="3.6"/><circle cx="431.6" cy="320.8" r="3.6"/><circle cx="431.2" cy="327.0" r="3.6"/><circle cx="431.4" cy="297.7" r="3.6"/><circle cx="431.6" cy="319.1" r="3.6"/><circle cx="431.2" cy="336.5" r="3.6"/><circle cx="432.3" cy="321.9" r="3.6"/><circle cx="431.7" cy="299.8" r="3.6"/><circle cx="432.4" cy="333.0" r="3.6"/><circle cx="432.1" cy="311.2" r="3.6"/><circle cx="433.1" cy="298.0" r="3.6"/><circle cx="432.9" cy="294.9" r="3.6"/><circle cx="432.5" cy="297.8" r="3.6"/><circle cx="432.6" cy="323.2" r="3.6"/><circle cx="433.6" cy="315.7" r="3.6"/><circle cx="433.3" cy="316.7" r="3.6"/><circle cx="433.3" cy="321.8" r="3.6"/><circle cx="433.6" cy="297.0" r="3.6"/><circle cx="433.9" cy="295.2" r="3.6"/><circle cx="434.6" cy="313.2" r="3.6"/><circle cx="434.3" cy="325.1" r="3.6"/><circle cx="434.3" cy="310.5" r="3.6"/><circle cx="434.9" cy="327.0" r="3.6"/><circle cx="434.8" cy="306.1" r="3.6"/><circle cx="434.9" cy="299.0" r="3.6"/><circle cx="435.1" cy="326.9" r="3.6"/><circle cx="435.7" cy="329.7" r="3.6"/><circle cx="435.8" cy="319.0" r="3.6"/><circle cx="435.6" cy="313.4" r="3.6"/><circle cx="435.9" cy="315.9" r="3.6"/><circle cx="436.6" cy="303.8" r="3.6"/><circle cx="436.8" cy="306.1" r="3.6"/><circle cx="436.3" cy="301.2" r="3.6"/><circle cx="436.5" cy="327.1" r="3.6"/><circle cx="437.2" cy="302.2" r="3.6"/><circle cx="437.0" cy="325.5" r="3.6"/><circle cx="436.9" cy="315.8" r="3.6"/><circle cx="438.2" cy="318.2" r="3.6"/><circle cx="437.8" cy="314.8" r="3.6"/><circle cx="437.9" cy="308.0" r="3.6"/><circle cx="439.1" cy="324.9" r="3.6"/><circle cx="439.0" cy="313.5" r="3.6"/><circle cx="439.2" cy="313.3" r="3.6"/><circle cx="439.6" cy="310.2" r="3.6"/><circle cx="439.3" cy="306.0" r="3.6"/><circle cx="440.4" cy="305.1" r="3.6"/><circle cx="440.5" cy="320.9" r="3.6"/><circle cx="440.3" cy="308.3" r="3.6"/><circle cx="441.3" cy="312.3" r="3.6"/><circle cx="441.1" cy="310.2" r="3.6"/><circle cx="441.3" cy="315.0" r="3.6"/><circle cx="442.1" cy="299.8" r="3.6"/><circle cx="442.0" cy="320.4" r="3.6"/><circle cx="441.5" cy="312.2" r="3.6"/><circle cx="442.6" cy="316.7" r="3.6"/><circle cx="442.1" cy="307.5" r="3.6"/><circle cx="443.2" cy="296.4" r="3.6"/><circle cx="443.4" cy="295.9" r="3.6"/><circle cx="443.9" cy="300.1" r="3.6"/><circle cx="444.2" cy="313.4" r="3.6"/><circle cx="444.4" cy="309.5" r="3.6"/><circle cx="444.7" cy="300.6" r="3.6"/><circle cx="445.7" cy="294.4" r="3.6"/><circle cx="445.7" cy="291.0" r="3.6"/><circle cx="446.6" cy="292.2" r="3.6"/><circle cx="446.3" cy="308.2" r="3.6"/><circle cx="446.8" cy="297.4" r="3.6"/><circle cx="446.7" cy="304.6" r="3.6"/><circle cx="447.8" cy="308.2" r="3.6"/><circle cx="447.8" cy="307.7" r="3.6"/><circle cx="448.2" cy="304.0" r="3.6"/><circle cx="449.1" cy="300.4" r="3.6"/><circle cx="449.4" cy="306.5" r="3.6"/><circle cx="449.7" cy="303.0" r="3.6"/><circle cx="450.0" cy="306.4" r="3.6"/><circle cx="450.6" cy="308.4" r="3.6"/><circle cx="451.4" cy="305.6" r="3.6"/><circle cx="451.8" cy="306.8" r="3.6"/><circle cx="452.2" cy="301.4" r="3.6"/><circle cx="453.2" cy="297.1" r="3.6"/><circle cx="453.5" cy="307.3" r="3.6"/><circle cx="453.4" cy="305.6" r="3.6"/><circle cx="454.6" cy="304.0" r="3.6"/><circle cx="454.7" cy="299.5" r="3.6"/><circle cx="455.5" cy="299.2" r="3.6"/><circle cx="450.7" cy="297.6" r="3.6"/><circle cx="450.5" cy="297.6" r="3.6"/><circle cx="457.8" cy="300.3" r="3.6"/><circle cx="450.2" cy="296.5" r="3.6"/><circle cx="460.9" cy="301.8" r="3.6"/><circle cx="456.5" cy="298.4" r="3.6"/><circle cx="450.8" cy="295.5" r="3.6"/><circle cx="452.8" cy="296.5" r="3.6"/><circle cx="455.7" cy="297.5" r="3.6"/><circle cx="461.6" cy="300.5" r="3.6"/><circle cx="458.5" cy="298.2" r="3.6"/><circle cx="462.0" cy="299.9" r="3.6"/><circle cx="451.9" cy="293.5" r="3.6"/><circle cx="462.1" cy="298.6" r="3.6"/><circle cx="456.2" cy="295.0" r="3.6"/><circle cx="454.0" cy="294.0" r="3.6"/><circle cx="460.6" cy="296.3" r="3.6"/><circle cx="454.4" cy="293.2" r="3.6"/><circle cx="452.6" cy="292.0" r="3.6"/><circle cx="462.5" cy="297.0" r="3.6"/><circle cx="457.2" cy="293.5" r="3.6"/><circle cx="456.2" cy="293.0" r="3.6"/><circle cx="462.4" cy="295.2" r="3.6"/><circle cx="460.8" cy="293.1" r="3.6"/><circle cx="462.8" cy="293.4" r="3.6"/><circle cx="463.3" cy="293.1" r="3.6"/><circle cx="463.3" cy="293.1" r="3.6"/><circle cx="461.9" cy="291.4" r="3.6"/><circle cx="463.6" cy="291.0" r="3.6"/><circle cx="460.3" cy="289.4" r="3.6"/><circle cx="461.4" cy="289.5" r="3.6"/><circle cx="464.2" cy="290.1" r="3.6"/><circle cx="463.4" cy="289.7" r="3.6"/><circle cx="463.2" cy="289.0" r="3.6"/><circle cx="464.1" cy="289.5" r="3.6"/><circle cx="464.7" cy="288.2" r="3.6"/><circle cx="463.2" cy="287.4" r="3.6"/><circle cx="459.3" cy="285.4" r="3.6"/><circle cx="458.4" cy="285.0" r="3.6"/><circle cx="463.7" cy="286.3" r="3.6"/><circle cx="459.1" cy="284.0" r="3.6"/><circle cx="464.7" cy="285.8" r="3.6"/><circle cx="460.7" cy="283.2" r="3.6"/><circle cx="463.7" cy="283.8" r="3.6"/><circle cx="462.3" cy="281.0" r="3.6"/><circle cx="465.1" cy="286.4" r="3.6"/><circle cx="465.9" cy="285.8" r="3.6"/><circle cx="464.6" cy="281.3" r="3.6"/><circle cx="464.0" cy="279.1" r="3.6"/><circle cx="464.2" cy="279.5" r="3.6"/><circle cx="465.3" cy="278.9" r="3.6"/><circle cx="466.1" cy="283.3" r="3.6"/><circle cx="466.4" cy="283.8" r="3.6"/><circle cx="469.9" cy="281.8" r="3.6"/><circle cx="470.9" cy="281.8" r="3.6"/><circle cx="471.9" cy="282.0" r="3.6"/><circle cx="471.2" cy="282.6" r="3.6"/><circle cx="470.1" cy="284.9" r="3.6"/><circle cx="469.7" cy="285.4" r="3.6"/><circle cx="473.0" cy="284.4" r="3.6"/><circle cx="472.2" cy="285.3" r="3.6"/><circle cx="472.5" cy="286.1" r="3.6"/><circle cx="471.8" cy="287.8" r="3.6"/><circle cx="473.6" cy="288.1" r="3.6"/><circle cx="470.4" cy="290.7" r="3.6"/><circle cx="472.2" cy="288.5" r="3.6"/><circle cx="471.6" cy="287.6" r="3.6"/><circle cx="470.1" cy="286.1" r="3.6"/><circle cx="470.0" cy="285.7" r="3.6"/><circle cx="472.6" cy="285.3" r="3.6"/><circle cx="473.2" cy="285.0" r="3.6"/><circle cx="476.1" cy="286.0" r="3.6"/><circle cx="475.3" cy="285.2" r="3.6"/><circle cx="472.2" cy="283.2" r="3.6"/><circle cx="472.2" cy="282.1" r="3.6"/><circle cx="478.0" cy="283.6" r="3.6"/><circle cx="475.2" cy="281.6" r="3.6"/><circle cx="475.0" cy="280.5" r="3.6"/><circle cx="472.9" cy="278.8" r="3.6"/><circle cx="474.9" cy="279.0" r="3.6"/><circle cx="474.8" cy="277.4" r="3.6"/><circle cx="480.3" cy="280.0" r="3.6"/><circle cx="478.6" cy="277.6" r="3.6"/><circle cx="475.2" cy="280.2" r="3.6"/><circle cx="476.0" cy="280.8" r="3.6"/><circle cx="481.8" cy="279.1" r="3.6"/><circle cx="476.6" cy="282.6" r="3.6"/><circle cx="477.0" cy="283.1" r="3.6"/><circle cx="478.6" cy="283.0" r="3.6"/><circle cx="482.6" cy="281.0" r="3.6"/><circle cx="481.2" cy="282.3" r="3.6"/><circle cx="477.9" cy="285.1" r="3.6"/><circle cx="483.1" cy="283.4" r="3.6"/><circle cx="481.2" cy="284.8" r="3.6"/><circle cx="483.0" cy="284.9" r="3.6"/><circle cx="484.3" cy="285.4" r="3.6"/><circle cx="483.2" cy="286.3" r="3.6"/><circle cx="481.6" cy="287.5" r="3.6"/><circle cx="484.5" cy="287.1" r="3.6"/><circle cx="480.1" cy="288.9" r="3.6"/><circle cx="482.3" cy="289.5" r="3.6"/><circle cx="481.5" cy="289.8" r="3.6"/><circle cx="481.1" cy="290.0" r="3.6"/><circle cx="481.6" cy="291.5" r="3.6"/><circle cx="485.3" cy="290.2" r="3.6"/><circle cx="484.8" cy="291.7" r="3.6"/><circle cx="483.2" cy="293.5" r="3.6"/><circle cx="483.9" cy="293.9" r="3.6"/><circle cx="483.6" cy="295.2" r="3.6"/><circle cx="488.9" cy="294.8" r="3.6"/><circle cx="487.4" cy="294.2" r="3.6"/><circle cx="487.2" cy="293.8" r="3.6"/><circle cx="486.4" cy="292.4" r="3.6"/><circle cx="487.2" cy="292.2" r="3.6"/><circle cx="489.3" cy="291.9" r="3.6"/><circle cx="487.7" cy="290.3" r="3.6"/><circle cx="487.8" cy="290.0" r="3.6"/><circle cx="487.3" cy="289.9" r="3.6"/><circle cx="490.5" cy="290.6" r="3.6"/><circle cx="489.1" cy="290.0" r="3.6"/><circle cx="487.5" cy="287.9" r="3.6"/><circle cx="485.2" cy="286.2" r="3.6"/><circle cx="487.5" cy="286.6" r="3.6"/><circle cx="485.9" cy="284.7" r="3.6"/><circle cx="488.4" cy="285.5" r="3.6"/><circle cx="492.0" cy="285.9" r="3.6"/><circle cx="487.1" cy="283.4" r="3.6"/><circle cx="490.5" cy="283.7" r="3.6"/><circle cx="487.8" cy="282.2" r="3.6"/><circle cx="490.6" cy="282.7" r="3.6"/><circle cx="489.0" cy="281.0" r="3.6"/><circle cx="492.2" cy="281.7" r="3.6"/><circle cx="489.8" cy="282.8" r="3.6"/><circle cx="493.3" cy="282.7" r="3.6"/><circle cx="492.8" cy="283.9" r="3.6"/><circle cx="493.6" cy="284.5" r="3.6"/><circle cx="492.4" cy="284.9" r="3.6"/><circle cx="495.6" cy="284.7" r="3.6"/><circle cx="493.6" cy="286.0" r="3.6"/><circle cx="489.8" cy="287.5" r="3.6"/><circle cx="490.2" cy="287.8" r="3.6"/><circle cx="494.9" cy="286.0" r="3.6"/><circle cx="490.5" cy="288.8" r="3.6"/><circle cx="496.3" cy="287.5" r="3.6"/><circle cx="495.2" cy="288.5" r="3.6"/><circle cx="495.6" cy="288.9" r="3.6"/><circle cx="497.0" cy="289.6" r="3.6"/><circle cx="493.0" cy="291.9" r="3.6"/><circle cx="493.9" cy="292.8" r="3.6"/><circle cx="496.3" cy="292.2" r="3.6"/><circle cx="497.8" cy="292.2" r="3.6"/><circle cx="496.2" cy="294.1" r="3.6"/><circle cx="497.0" cy="293.8" r="3.6"/><circle cx="495.0" cy="292.8" r="3.6"/><circle cx="497.5" cy="294.5" r="3.6"/><circle cx="495.2" cy="291.3" r="3.6"/><circle cx="500.4" cy="294.4" r="3.6"/><circle cx="499.0" cy="292.1" r="3.6"/><circle cx="497.2" cy="290.5" r="3.6"/><circle cx="499.2" cy="291.5" r="3.6"/><circle cx="500.2" cy="292.4" r="3.6"/><circle cx="500.7" cy="291.5" r="3.6"/><circle cx="497.3" cy="288.4" r="3.6"/><circle cx="499.2" cy="289.1" r="3.6"/><circle cx="497.7" cy="286.9" r="3.6"/><circle cx="499.1" cy="287.6" r="3.6"/><circle cx="499.9" cy="286.9" r="3.6"/><circle cx="499.3" cy="286.0" r="3.6"/><circle cx="502.3" cy="286.7" r="3.6"/><circle cx="500.1" cy="285.4" r="3.6"/><circle cx="504.2" cy="286.6" r="3.6"/><circle cx="499.8" cy="283.6" r="3.6"/><circle cx="502.2" cy="284.1" r="3.6"/><circle cx="505.9" cy="285.6" r="3.6"/><circle cx="505.8" cy="284.8" r="3.6"/><circle cx="504.1" cy="282.6" r="3.6"/><circle cx="505.4" cy="282.8" r="3.6"/><circle cx="504.7" cy="281.1" r="3.6"/><circle cx="507.1" cy="281.4" r="3.6"/><circle cx="503.7" cy="278.5" r="3.6"/><circle cx="506.8" cy="280.0" r="3.6"/><circle cx="503.5" cy="276.7" r="3.6"/><circle cx="506.7" cy="278.6" r="3.6"/><circle cx="508.0" cy="277.8" r="3.6"/><circle cx="505.5" cy="275.6" r="3.6"/><circle cx="507.9" cy="276.5" r="3.6"/><circle cx="509.9" cy="274.3" r="3.6"/><circle cx="508.2" cy="277.7" r="3.6"/><circle cx="511.4" cy="274.8" r="3.6"/><circle cx="509.8" cy="276.4" r="3.6"/><circle cx="509.7" cy="278.1" r="3.6"/><circle cx="508.2" cy="280.7" r="3.6"/><circle cx="511.7" cy="277.5" r="3.6"/><circle cx="509.6" cy="280.4" r="3.6"/><circle cx="513.8" cy="279.2" r="3.6"/><circle cx="513.8" cy="279.2" r="3.6"/><circle cx="512.4" cy="280.2" r="3.6"/><circle cx="511.1" cy="281.6" r="3.6"/><circle cx="509.6" cy="283.7" r="3.6"/><circle cx="514.1" cy="281.5" r="3.6"/><circle cx="515.0" cy="281.5" r="3.6"/><circle cx="515.7" cy="282.0" r="3.6"/><circle cx="513.3" cy="283.7" r="3.6"/><circle cx="510.9" cy="285.8" r="3.6"/><circle cx="511.4" cy="287.2" r="3.6"/><circle cx="512.7" cy="287.4" r="3.6"/><circle cx="512.2" cy="288.0" r="3.6"/><circle cx="517.8" cy="285.5" r="3.6"/><circle cx="512.8" cy="288.8" r="3.6"/><circle cx="517.2" cy="286.7" r="3.6"/><circle cx="514.2" cy="289.7" r="3.6"/><circle cx="516.8" cy="289.0" r="3.6"/><circle cx="516.4" cy="290.1" r="3.6"/><circle cx="515.7" cy="290.6" r="3.6"/><circle cx="520.3" cy="288.4" r="3.6"/><circle cx="517.6" cy="290.9" r="3.6"/><circle cx="519.1" cy="289.4" r="3.6"/><circle cx="518.9" cy="292.4" r="3.6"/><circle cx="518.3" cy="294.9" r="3.6"/><circle cx="518.4" cy="295.2" r="3.6"/><circle cx="520.6" cy="291.4" r="3.6"/><circle cx="520.3" cy="294.7" r="3.6"/><circle cx="523.1" cy="293.5" r="3.6"/><circle cx="522.0" cy="292.5" r="3.6"/><circle cx="524.3" cy="294.2" r="3.6"/><circle cx="521.8" cy="290.5" r="3.6"/><circle cx="520.6" cy="289.7" r="3.6"/><circle cx="522.1" cy="289.9" r="3.6"/><circle cx="523.6" cy="290.6" r="3.6"/><circle cx="522.2" cy="289.0" r="3.6"/><circle cx="521.3" cy="288.3" r="3.6"/><circle cx="527.0" cy="290.9" r="3.6"/><circle cx="523.2" cy="288.1" r="3.6"/><circle cx="525.3" cy="288.6" r="3.6"/><circle cx="526.3" cy="289.0" r="3.6"/><circle cx="524.8" cy="288.3" r="3.6"/><circle cx="525.3" cy="287.1" r="3.6"/><circle cx="528.8" cy="288.5" r="3.6"/><circle cx="527.8" cy="286.6" r="3.6"/><circle cx="523.0" cy="284.2" r="3.6"/><circle cx="528.1" cy="285.4" r="3.6"/><circle cx="526.9" cy="284.3" r="3.6"/><circle cx="525.7" cy="283.8" r="3.6"/><circle cx="528.7" cy="284.3" r="3.6"/><circle cx="526.6" cy="283.4" r="3.6"/><circle cx="523.8" cy="281.1" r="3.6"/><circle cx="530.3" cy="284.0" r="3.6"/><circle cx="528.8" cy="282.3" r="3.6"/><circle cx="525.0" cy="279.9" r="3.6"/><circle cx="530.4" cy="282.0" r="3.6"/><circle cx="524.8" cy="278.7" r="3.6"/><circle cx="528.8" cy="279.0" r="3.6"/><circle cx="529.4" cy="278.3" r="3.6"/><circle cx="527.9" cy="276.9" r="3.6"/><circle cx="530.6" cy="277.3" r="3.6"/><circle cx="532.2" cy="277.6" r="3.6"/><circle cx="530.7" cy="276.2" r="3.6"/><circle cx="527.4" cy="274.1" r="3.6"/><circle cx="533.7" cy="275.4" r="3.6"/><circle cx="532.7" cy="274.6" r="3.6"/><circle cx="532.1" cy="273.7" r="3.6"/><circle cx="533.9" cy="274.6" r="3.6"/><circle cx="535.4" cy="274.2" r="3.6"/><circle cx="533.2" cy="272.3" r="3.6"/><circle cx="530.4" cy="269.8" r="3.6"/><circle cx="531.5" cy="269.3" r="3.6"/><circle cx="531.6" cy="269.0" r="3.6"/><circle cx="535.0" cy="270.7" r="3.6"/><circle cx="534.6" cy="269.7" r="3.6"/><circle cx="534.4" cy="268.7" r="3.6"/><circle cx="531.4" cy="265.2" r="3.6"/><circle cx="536.4" cy="268.5" r="3.6"/><circle cx="534.6" cy="265.6" r="3.6"/><circle cx="537.6" cy="267.0" r="3.6"/><circle cx="536.6" cy="266.0" r="3.6"/><circle cx="537.8" cy="265.7" r="3.6"/><circle cx="524.1" cy="294.0" r="3.6"/><circle cx="524.5" cy="295.0" r="3.6"/><circle cx="524.1" cy="292.6" r="3.6"/><circle cx="525.1" cy="295.2" r="3.6"/><circle cx="524.7" cy="288.5" r="3.6"/><circle cx="526.0" cy="290.7" r="3.6"/><circle cx="527.4" cy="293.6" r="3.6"/><circle cx="526.9" cy="291.2" r="3.6"/><circle cx="528.2" cy="294.8" r="3.6"/><circle cx="529.4" cy="294.7" r="3.6"/><circle cx="529.7" cy="294.4" r="3.6"/><circle cx="529.8" cy="291.0" r="3.6"/><circle cx="530.1" cy="292.3" r="3.6"/><circle cx="530.0" cy="286.8" r="3.6"/><circle cx="531.0" cy="286.7" r="3.6"/><circle cx="532.5" cy="289.4" r="3.6"/><circle cx="531.8" cy="286.7" r="3.6"/><circle cx="534.6" cy="290.9" r="3.6"/><circle cx="536.0" cy="292.0" r="3.6"/><circle cx="534.4" cy="286.7" r="3.6"/><circle cx="534.5" cy="285.7" r="3.6"/><circle cx="533.7" cy="284.7" r="3.6"/><circle cx="539.2" cy="290.1" r="3.6"/><circle cx="539.3" cy="289.5" r="3.6"/><circle cx="539.6" cy="288.0" r="3.6"/><circle cx="536.3" cy="284.1" r="3.6"/><circle cx="538.1" cy="285.4" r="3.6"/><circle cx="536.8" cy="282.5" r="3.6"/><circle cx="542.1" cy="285.1" r="3.6"/><circle cx="538.5" cy="284.1" r="3.6"/><circle cx="542.1" cy="283.7" r="3.6"/><circle cx="543.0" cy="283.0" r="3.6"/><circle cx="541.7" cy="282.2" r="3.6"/><circle cx="541.4" cy="281.2" r="3.6"/><circle cx="542.1" cy="280.5" r="3.6"/><circle cx="540.0" cy="279.7" r="3.6"/><circle cx="539.6" cy="279.0" r="3.6"/><circle cx="539.7" cy="278.5" r="3.6"/><circle cx="541.5" cy="277.5" r="3.6"/><circle cx="541.8" cy="276.7" r="3.6"/><circle cx="542.1" cy="275.6" r="3.6"/><circle cx="539.4" cy="275.6" r="3.6"/><circle cx="540.0" cy="274.7" r="3.6"/><circle cx="538.7" cy="274.2" r="3.6"/><circle cx="542.9" cy="272.8" r="3.6"/><circle cx="540.5" cy="272.4" r="3.6"/><circle cx="427.3" cy="357.8" r="3.6"/><circle cx="426.5" cy="352.5" r="3.6"/><circle cx="425.5" cy="348.0" r="3.6"/><circle cx="395.0" cy="331.5" r="3.6"/><circle cx="395.2" cy="326.0" r="3.6"/><circle cx="394.8" cy="321.0" r="3.6"/><circle cx="406.0" cy="330.5" r="3.6"/><circle cx="405.6" cy="325.0" r="3.6"/><circle cx="379.0" cy="311.2" r="3.6"/><circle cx="400.6" cy="271.5" r="3.6"/><circle cx="355.0" cy="295.5" r="3.6"/></g><path d="M264.3 166.8L265.5 170.3M302.5 181.9L303.6 184.2M320.5 192.2L321.2 196.3M326.8 176.5L326.8 173.0M348.2 213.9L349.2 217.1M354.7 195.5L354.5 192.0M357.1 220.8L358.3 223.7M415.8 246.0L415.6 248.3M454.8 222.5L454.9 219.5M412.0 252.0L412.4 265.3M354.0 192.0L353.8 181.1M342.0 212.0L342.2 224.4M364.0 224.0L364.7 233.6M303.0 165.0L303.0 159.0M482.0 212.0L482.6 204.2M308.0 184.0L308.2 192.4" stroke="#0000ff" stroke-width="1.6" fill="none"/><g fill="url(#gb)"><circle cx="58.8" cy="20.9" r="3.6"/><circle cx="58.9" cy="20.7" r="3.6"/><circle cx="60.2" cy="21.0" r="3.6"/><circle cx="60.7" cy="21.3" r="3.6"/><circle cx="61.3" cy="21.2" r="3.6"/><circle cx="62.6" cy="21.8" r="3.6"/><circle cx="63.2" cy="21.8" r="3.6"/><circle cx="63.8" cy="22.5" r="3.6"/><circle cx="64.8" cy="22.4" r="3.6"/><circle cx="65.3" cy="22.8" r="3.6"/><circle cx="66.2" cy="23.4" r="3.6"/><circle cx="67.0" cy="23.7" r="3.6"/><circle cx="67.8" cy="23.7" r="3.6"/><circle cx="67.9" cy="24.3" r="3.6"/><circle cx="69.1" cy="24.5" r="3.6"/><circle cx="69.4" cy="24.6" r="3.6"/><circle cx="70.3" cy="24.7" r="3.6"/><circle cx="71.0" cy="24.9" r="3.6"/><circle cx="71.8" cy="25.2" r="3.6"/><circle cx="72.7" cy="25.3" r="3.6"/><circle cx="73.7" cy="26.0" r="3.6"/><circle cx="74.0" cy="26.0" r="3.6"/><circle cx="75.6" cy="27.0" r="3.6"/><circle cx="76.4" cy="27.3" r="3.6"/><circle cx="77.3" cy="27.2" r="3.6"/><circle cx="78.0" cy="27.6" r="3.6"/><circle cx="78.6" cy="27.5" r="3.6"/><circle cx="79.9" cy="27.8" r="3.6"/><circle cx="79.9" cy="28.6" r="3.6"/><circle cx="81.0" cy="29.1" r="3.6"/><circle cx="81.8" cy="28.7" r="3.6"/><circle cx="82.2" cy="29.0" r="3.6"/><circle cx="83.0" cy="29.5" r="3.6"/><circle cx="83.9" cy="30.7" r="3.6"/><circle cx="84.9" cy="31.3" r="3.6"/><circle cx="85.1" cy="30.9" r="3.6"/><circle cx="86.0" cy="31.9" r="3.6"/><circle cx="87.4" cy="30.5" r="3.6"/><circle cx="87.4" cy="31.5" r="3.6"/><circle cx="88.2" cy="32.5" r="3.6"/><circle cx="89.5" cy="33.8" r="3.6"/><circle cx="90.2" cy="34.8" r="3.6"/><circle cx="90.8" cy="33.1" r="3.6"/><circle cx="91.2" cy="35.1" r="3.6"/><circle cx="92.0" cy="34.7" r="3.6"/><circle cx="92.7" cy="37.3" r="3.6"/><circle cx="93.7" cy="36.0" r="3.6"/><circle cx="94.2" cy="39.5" r="3.6"/><circle cx="95.1" cy="36.7" r="3.6"/><circle cx="96.2" cy="40.2" r="3.6"/><circle cx="96.7" cy="41.4" r="3.6"/><circle cx="97.1" cy="39.1" r="3.6"/><circle cx="98.2" cy="40.0" r="3.6"/><circle cx="99.2" cy="43.6" r="3.6"/><circle cx="99.9" cy="40.4" r="3.6"/><circle cx="100.4" cy="41.7" r="3.6"/><circle cx="101.6" cy="45.6" r="3.6"/><circle cx="102.0" cy="44.6" r="3.6"/><circle cx="103.0" cy="43.2" r="3.6"/><circle cx="103.2" cy="48.0" r="3.6"/><circle cx="103.9" cy="45.7" r="3.6"/><circle cx="105.0" cy="46.6" r="3.6"/><circle cx="106.1" cy="47.9" r="3.6"/><circle cx="106.4" cy="51.2" r="3.6"/><circle cx="107.2" cy="50.8" r="3.6"/><circle cx="107.8" cy="50.2" r="3.6"/><circle cx="108.6" cy="52.9" r="3.6"/><circle cx="109.2" cy="53.4" r="3.6"/><circle cx="110.5" cy="49.8" r="3.6"/><circle cx="111.2" cy="49.7" r="3.6"/><circle cx="111.5" cy="49.9" r="3.6"/><circle cx="112.5" cy="52.4" r="3.6"/><circle cx="113.1" cy="50.7" r="3.6"/><circle cx="113.8" cy="54.7" r="3.6"/><circle cx="114.7" cy="52.7" r="3.6"/><circle cx="115.7" cy="57.6" r="3.6"/><circle cx="116.2" cy="52.5" r="3.6"/><circle cx="116.8" cy="53.7" r="3.6"/><circle cx="117.5" cy="55.8" r="3.6"/><circle cx="118.4" cy="53.8" r="3.6"/><circle cx="119.2" cy="57.7" r="3.6"/><circle cx="120.2" cy="56.9" r="3.6"/><circle cx="121.1" cy="56.4" r="3.6"/><circle cx="121.7" cy="58.5" r="3.6"/><circle cx="122.2" cy="56.1" r="3.6"/><circle cx="122.7" cy="60.3" r="3.6"/><circle cx="123.9" cy="60.6" r="3.6"/><circle cx="124.4" cy="57.1" r="3.6"/><circle cx="125.3" cy="57.8" r="3.6"/><circle cx="126.0" cy="58.5" r="3.6"/><circle cx="127.0" cy="60.3" r="3.6"/><circle cx="127.2" cy="58.9" r="3.6"/><circle cx="128.4" cy="63.3" r="3.6"/><circle cx="128.7" cy="63.9" r="3.6"/><circle cx="129.6" cy="61.1" r="3.6"/><circle cx="130.7" cy="61.4" r="3.6"/><circle cx="131.6" cy="63.0" r="3.6"/><circle cx="132.1" cy="66.3" r="3.6"/><circle cx="132.7" cy="67.5" r="3.6"/><circle cx="133.3" cy="68.2" r="3.6"/><circle cx="134.1" cy="65.6" r="3.6"/><circle cx="135.2" cy="66.9" r="3.6"/><circle cx="136.0" cy="70.0" r="3.6"/><circle cx="136.3" cy="70.8" r="3.6"/><circle cx="137.1" cy="68.6" r="3.6"/><circle cx="137.9" cy="71.8" r="3.6"/><circle cx="138.9" cy="72.0" r="3.6"/><circle cx="139.5" cy="71.5" r="3.6"/><circle cx="140.3" cy="71.2" r="3.6"/><circle cx="140.9" cy="73.2" r="3.6"/><circle cx="141.9" cy="72.9" r="3.6"/><circle cx="142.8" cy="72.6" r="3.6"/><circle cx="143.6" cy="75.9" r="3.6"/><circle cx="143.9" cy="74.2" r="3.6"/><circle cx="144.5" cy="76.8" r="3.6"/><circle cx="145.2" cy="76.8" r="3.6"/><circle cx="146.3" cy="78.7" r="3.6"/><circle cx="147.0" cy="78.9" r="3.6"/><circle cx="148.1" cy="77.6" r="3.6"/><circle cx="148.7" cy="79.3" r="3.6"/><circle cx="149.5" cy="79.8" r="3.6"/><circle cx="150.2" cy="81.4" r="3.6"/><circle cx="150.6" cy="81.9" r="3.6"/><circle cx="151.7" cy="82.8" r="3.6"/><circle cx="152.1" cy="81.1" r="3.6"/><circle cx="153.0" cy="81.8" r="3.6"/><circle cx="153.5" cy="83.8" r="3.6"/><circle cx="154.7" cy="78.3" r="3.6"/><circle cx="155.3" cy="80.8" r="3.6"/><circle cx="156.0" cy="80.0" r="3.6"/><circle cx="156.4" cy="80.6" r="3.6"/><circle cx="157.6" cy="83.4" r="3.6"/><circle cx="158.5" cy="80.5" r="3.6"/><circle cx="159.0" cy="84.5" r="3.6"/><circle cx="159.9" cy="81.3" r="3.6"/><circle cx="160.7" cy="86.0" r="3.6"/><circle cx="161.6" cy="83.7" r="3.6"/><circle cx="161.7" cy="83.0" r="3.6"/><circle cx="162.8" cy="84.2" r="3.6"/><circle cx="163.4" cy="84.5" r="3.6"/><circle cx="164.0" cy="87.4" r="3.6"/><circle cx="164.9" cy="84.2" r="3.6"/><circle cx="165.6" cy="88.9" r="3.6"/><circle cx="166.2" cy="87.0" r="3.6"/><circle cx="167.5" cy="87.6" r="3.6"/><circle cx="167.8" cy="88.9" r="3.6"/><circle cx="169.0" cy="89.5" r="3.6"/><circle cx="169.8" cy="88.2" r="3.6"/><circle cx="170.4" cy="88.4" r="3.6"/><circle cx="171.2" cy="87.9" r="3.6"/><circle cx="171.7" cy="91.5" r="3.6"/><circle cx="172.6" cy="90.3" r="3.6"/><circle cx="173.5" cy="89.1" r="3.6"/><circle cx="174.3" cy="90.0" r="3.6"/><circle cx="175.0" cy="93.4" r="3.6"/><circle cx="175.9" cy="90.9" r="3.6"/><circle cx="176.6" cy="90.9" r="3.6"/><circle cx="177.3" cy="90.5" r="3.6"/><circle cx="177.5" cy="93.2" r="3.6"/><circle cx="178.4" cy="95.0" r="3.6"/><circle cx="179.6" cy="96.7" r="3.6"/><circle cx="180.4" cy="92.1" r="3.6"/><circle cx="180.8" cy="92.6" r="3.6"/><circle cx="181.8" cy="98.5" r="3.6"/><circle cx="182.5" cy="99.3" r="3.6"/><circle cx="183.0" cy="100.3" r="3.6"/><circle cx="183.6" cy="95.0" r="3.6"/><circle cx="184.6" cy="95.7" r="3.6"/><circle cx="185.4" cy="101.8" r="3.6"/><circle cx="186.2" cy="96.3" r="3.6"/><circle cx="186.5" cy="103.5" r="3.6"/><circle cx="187.5" cy="98.8" r="3.6"/><circle cx="188.5" cy="99.3" r="3.6"/><circle cx="189.3" cy="100.5" r="3.6"/><circle cx="189.6" cy="100.1" r="3.6"/><circle cx="190.5" cy="106.9" r="3.6"/><circle cx="191.1" cy="103.8" r="3.6"/><circle cx="191.9" cy="102.8" r="3.6"/><circle cx="192.4" cy="106.6" r="3.6"/><circle cx="193.6" cy="103.7" r="3.6"/><circle cx="195.1" cy="104.5" r="3.6"/><circle cx="195.9" cy="105.9" r="3.6"/><circle cx="196.6" cy="104.4" r="3.6"/><circle cx="197.5" cy="108.4" r="3.6"/><circle cx="198.1" cy="110.6" r="3.6"/><circle cx="198.5" cy="110.7" r="3.6"/><circle cx="199.4" cy="107.7" r="3.6"/><circle cx="200.5" cy="105.3" r="3.6"/><circle cx="200.7" cy="109.5" r="3.6"/><circle cx="201.6" cy="107.3" r="3.6"/><circle cx="202.8" cy="106.8" r="3.6"/><circle cx="203.1" cy="113.2" r="3.6"/><circle cx="204.0" cy="111.8" r="3.6"/><circle cx="204.9" cy="111.3" r="3.6"/><circle cx="205.4" cy="113.4" r="3.6"/><circle cx="205.9" cy="109.8" r="3.6"/><circle cx="207.3" cy="110.1" r="3.6"/><circle cx="207.6" cy="109.1" r="3.6"/><circle cx="208.4" cy="116.0" r="3.6"/><circle cx="209.3" cy="113.1" r="3.6"/><circle cx="210.1" cy="112.5" r="3.6"/><circle cx="210.8" cy="115.7" r="3.6"/><circle cx="211.8" cy="111.2" r="3.6"/><circle cx="212.2" cy="115.4" r="3.6"/><circle cx="213.0" cy="113.2" r="3.6"/><circle cx="213.4" cy="116.7" r="3.6"/><circle cx="214.8" cy="117.2" r="3.6"/><circle cx="215.0" cy="114.9" r="3.6"/><circle cx="215.7" cy="114.8" r="3.6"/><circle cx="216.7" cy="118.5" r="3.6"/><circle cx="217.4" cy="117.6" r="3.6"/><circle cx="219.2" cy="119.3" r="3.6"/><circle cx="219.6" cy="121.5" r="3.6"/><circle cx="220.7" cy="117.8" r="3.6"/><circle cx="221.0" cy="122.2" r="3.6"/><circle cx="222.0" cy="118.0" r="3.6"/><circle cx="222.7" cy="120.3" r="3.6"/><circle cx="223.5" cy="125.0" r="3.6"/><circle cx="224.4" cy="122.6" r="3.6"/><circle cx="225.0" cy="120.6" r="3.6"/><circle cx="225.7" cy="127.1" r="3.6"/><circle cx="226.2" cy="122.7" r="3.6"/><circle cx="227.5" cy="126.8" r="3.6"/><circle cx="227.8" cy="126.0" r="3.6"/><circle cx="228.6" cy="129.6" r="3.6"/><circle cx="229.8" cy="129.4" r="3.6"/><circle cx="230.2" cy="127.8" r="3.6"/><circle cx="231.2" cy="133.8" r="3.6"/><circle cx="231.7" cy="127.7" r="3.6"/><circle cx="232.7" cy="137.5" r="3.6"/><circle cx="233.4" cy="134.2" r="3.6"/><circle cx="233.9" cy="135.3" r="3.6"/><circle cx="234.0" cy="134.9" r="3.6"/><circle cx="234.7" cy="140.4" r="3.6"/><circle cx="235.6" cy="127.1" r="3.6"/><circle cx="235.9" cy="139.5" r="3.6"/><circle cx="235.9" cy="141.9" r="3.6"/><circle cx="237.3" cy="134.7" r="3.6"/><circle cx="237.4" cy="133.2" r="3.6"/><circle cx="237.8" cy="127.9" r="3.6"/><circle cx="237.8" cy="132.3" r="3.6"/><circle cx="238.5" cy="132.6" r="3.6"/><circle cx="238.8" cy="138.0" r="3.6"/><circle cx="239.5" cy="143.1" r="3.6"/><circle cx="239.3" cy="128.8" r="3.6"/><circle cx="239.7" cy="141.2" r="3.6"/><circle cx="240.1" cy="144.9" r="3.6"/><circle cx="240.7" cy="138.3" r="3.6"/><circle cx="240.8" cy="136.5" r="3.6"/><circle cx="241.5" cy="145.5" r="3.6"/><circle cx="241.7" cy="137.2" r="3.6"/><circle cx="241.9" cy="131.4" r="3.6"/><circle cx="242.5" cy="145.9" r="3.6"/><circle cx="243.3" cy="137.5" r="3.6"/><circle cx="242.7" cy="133.0" r="3.6"/><circle cx="243.7" cy="135.2" r="3.6"/><circle cx="243.7" cy="133.3" r="3.6"/><circle cx="244.1" cy="138.9" r="3.6"/><circle cx="244.4" cy="136.9" r="3.6"/><circle cx="245.2" cy="141.2" r="3.6"/><circle cx="245.5" cy="137.7" r="3.6"/><circle cx="245.9" cy="145.0" r="3.6"/><circle cx="246.2" cy="138.4" r="3.6"/><circle cx="246.4" cy="144.5" r="3.6"/><circle cx="247.8" cy="147.4" r="3.6"/><circle cx="248.0" cy="149.5" r="3.6"/><circle cx="249.2" cy="150.5" r="3.6"/><circle cx="248.9" cy="146.4" r="3.6"/><circle cx="249.7" cy="149.2" r="3.6"/><circle cx="249.4" cy="149.9" r="3.6"/><circle cx="250.4" cy="143.2" r="3.6"/><circle cx="250.1" cy="142.8" r="3.6"/><circle cx="250.9" cy="152.3" r="3.6"/><circle cx="251.7" cy="149.2" r="3.6"/><circle cx="251.7" cy="140.1" r="3.6"/><circle cx="252.6" cy="144.8" r="3.6"/><circle cx="253.3" cy="141.6" r="3.6"/><circle cx="253.5" cy="144.5" r="3.6"/><circle cx="254.3" cy="144.8" r="3.6"/><circle cx="254.2" cy="143.6" r="3.6"/><circle cx="254.7" cy="157.3" r="3.6"/><circle cx="255.1" cy="144.3" r="3.6"/><circle cx="255.4" cy="150.9" r="3.6"/><circle cx="255.7" cy="155.4" r="3.6"/><circle cx="256.4" cy="146.5" r="3.6"/><circle cx="257.2" cy="152.3" r="3.6"/><circle cx="258.2" cy="152.0" r="3.6"/><circle cx="257.9" cy="154.5" r="3.6"/><circle cx="259.1" cy="159.1" r="3.6"/><circle cx="258.8" cy="156.7" r="3.6"/><circle cx="259.3" cy="160.4" r="3.6"/><circle cx="259.2" cy="147.0" r="3.6"/><circle cx="260.0" cy="148.3" r="3.6"/><circle cx="260.1" cy="149.6" r="3.6"/><circle cx="260.9" cy="163.1" r="3.6"/><circle cx="260.9" cy="152.3" r="3.6"/><circle cx="261.8" cy="149.3" r="3.6"/><circle cx="261.5" cy="156.4" r="3.6"/><circle cx="262.9" cy="157.7" r="3.6"/><circle cx="262.5" cy="150.2" r="3.6"/><circle cx="263.5" cy="156.1" r="3.6"/><circle cx="264.1" cy="150.7" r="3.6"/><circle cx="264.0" cy="164.6" r="3.6"/><circle cx="264.9" cy="157.0" r="3.6"/><circle cx="265.3" cy="152.7" r="3.6"/><circle cx="265.5" cy="170.3" r="3.6"/><circle cx="265.9" cy="151.5" r="3.6"/><circle cx="266.6" cy="159.5" r="3.6"/><circle cx="267.2" cy="160.9" r="3.6"/><circle cx="267.1" cy="158.5" r="3.6"/><circle cx="267.5" cy="156.4" r="3.6"/><circle cx="267.8" cy="156.4" r="3.6"/><circle cx="268.6" cy="168.9" r="3.6"/><circle cx="268.3" cy="152.2" r="3.6"/><circle cx="269.4" cy="157.4" r="3.6"/><circle cx="269.0" cy="157.3" r="3.6"/><circle cx="270.4" cy="170.4" r="3.6"/><circle cx="269.9" cy="168.1" r="3.6"/><circle cx="270.9" cy="165.5" r="3.6"/><circle cx="270.8" cy="169.2" r="3.6"/><circle cx="271.7" cy="161.7" r="3.6"/><circle cx="271.2" cy="169.8" r="3.6"/><circle cx="272.1" cy="170.9" r="3.6"/><circle cx="271.9" cy="157.0" r="3.6"/><circle cx="272.9" cy="154.9" r="3.6"/><circle cx="272.7" cy="165.1" r="3.6"/><circle cx="273.9" cy="156.1" r="3.6"/><circle cx="273.8" cy="159.5" r="3.6"/><circle cx="274.8" cy="168.8" r="3.6"/><circle cx="274.7" cy="169.4" r="3.6"/><circle cx="275.6" cy="166.0" r="3.6"/><circle cx="275.5" cy="154.3" r="3.6"/><circle cx="276.4" cy="166.5" r="3.6"/><circle cx="275.9" cy="170.3" r="3.6"/><circle cx="276.8" cy="167.8" r="3.6"/><circle cx="276.7" cy="169.3" r="3.6"/><circle cx="277.3" cy="154.2" r="3.6"/><circle cx="277.6" cy="155.0" r="3.6"/><circle cx="277.3" cy="166.7" r="3.6"/><circle cx="278.6" cy="170.7" r="3.6"/><circle cx="278.2" cy="172.7" r="3.6"/><circle cx="279.0" cy="173.5" r="3.6"/><circle cx="278.9" cy="155.1" r="3.6"/><circle cx="279.8" cy="164.4" r="3.6"/><circle cx="280.1" cy="164.3" r="3.6"/><circle cx="280.9" cy="164.8" r="3.6"/><circle cx="280.8" cy="166.6" r="3.6"/><circle cx="281.2" cy="160.5" r="3.6"/><circle cx="281.3" cy="168.1" r="3.6"/><circle cx="282.3" cy="163.4" r="3.6"/><circle cx="281.7" cy="172.3" r="3.6"/><circle cx="282.9" cy="168.8" r="3.6"/><circle cx="282.9" cy="158.9" r="3.6"/><circle cx="283.3" cy="160.2" r="3.6"/><circle cx="283.9" cy="166.7" r="3.6"/><circle cx="284.6" cy="162.9" r="3.6"/><circle cx="285.0" cy="160.6" r="3.6"/><circle cx="285.2" cy="162.1" r="3.6"/><circle cx="285.9" cy="161.4" r="3.6"/><circle cx="286.8" cy="172.3" r="3.6"/><circle cx="286.7" cy="172.4" r="3.6"/><circle cx="287.3" cy="173.8" r="3.6"/><circle cx="288.3" cy="171.0" r="3.6"/><circle cx="288.2" cy="170.6" r="3.6"/><circle cx="288.9" cy="162.4" r="3.6"/><circle cx="288.7" cy="165.5" r="3.6"/><circle cx="289.7" cy="170.2" r="3.6"/><circle cx="289.3" cy="165.2" r="3.6"/><circle cx="289.9" cy="163.5" r="3.6"/><circle cx="290.9" cy="163.4" r="3.6"/><circle cx="291.8" cy="173.7" r="3.6"/><circle cx="291.9" cy="164.2" r="3.6"/><circle cx="292.4" cy="168.5" r="3.6"/><circle cx="293.4" cy="168.4" r="3.6"/><circle cx="293.9" cy="166.5" r="3.6"/><circle cx="294.3" cy="164.6" r="3.6"/><circle cx="295.0" cy="171.2" r="3.6"/><circle cx="295.3" cy="168.7" r="3.6"/><circle cx="296.1" cy="168.1" r="3.6"/><circle cx="295.9" cy="171.1" r="3.6"/><circle cx="297.1" cy="167.2" r="3.6"/><circle cx="297.6" cy="172.7" r="3.6"/><circle cx="298.7" cy="166.1" r="3.6"/><circle cx="299.3" cy="178.2" r="3.6"/><circle cx="299.7" cy="166.5" r="3.6"/><circle cx="300.5" cy="177.8" r="3.6"/><circle cx="301.7" cy="172.2" r="3.6"/><circle cx="302.0" cy="180.6" r="3.6"/><circle cx="302.5" cy="175.8" r="3.6"/><circle cx="302.9" cy="169.9" r="3.6"/><circle cx="302.9" cy="175.3" r="3.6"/><circle cx="303.6" cy="184.2" r="3.6"/><circle cx="303.7" cy="171.3" r="3.6"/><circle cx="304.8" cy="169.8" r="3.6"/><circle cx="304.4" cy="175.4" r="3.6"/><circle cx="305.0" cy="182.0" r="3.6"/><circle cx="306.3" cy="174.1" r="3.6"/><circle cx="305.8" cy="171.9" r="3.6"/><circle cx="306.7" cy="182.1" r="3.6"/><circle cx="307.8" cy="181.5" r="3.6"/><circle cx="308.2" cy="168.9" r="3.6"/><circle cx="309.0" cy="170.9" r="3.6"/><circle cx="309.8" cy="181.6" r="3.6"/><circle cx="309.6" cy="180.2" r="3.6"/><circle cx="310.8" cy="181.6" r="3.6"/><circle cx="310.2" cy="171.8" r="3.6"/><circle cx="311.1" cy="182.2" r="3.6"/><circle cx="310.9" cy="179.7" r="3.6"/><circle cx="311.8" cy="174.4" r="3.6"/><circle cx="312.4" cy="177.3" r="3.6"/><circle cx="312.6" cy="185.5" r="3.6"/><circle cx="313.5" cy="187.4" r="3.6"/><circle cx="314.1" cy="188.3" r="3.6"/><circle cx="314.8" cy="176.2" r="3.6"/><circle cx="314.8" cy="178.6" r="3.6"/><circle cx="316.1" cy="178.9" r="3.6"/><circle cx="316.2" cy="182.7" r="3.6"/><circle cx="316.7" cy="174.3" r="3.6"/><circle cx="317.3" cy="176.7" r="3.6"/><circle cx="317.0" cy="184.0" r="3.6"/><circle cx="317.7" cy="186.0" r="3.6"/><circle cx="317.7" cy="177.4" r="3.6"/><circle cx="318.7" cy="173.5" r="3.6"/><circle cx="319.0" cy="174.3" r="3.6"/><circle cx="319.6" cy="188.5" r="3.6"/><circle cx="319.1" cy="187.7" r="3.6"/><circle cx="320.6" cy="173.8" r="3.6"/><circle cx="320.3" cy="177.5" r="3.6"/><circle cx="321.2" cy="196.3" r="3.6"/><circle cx="321.0" cy="179.5" r="3.6"/><circle cx="321.7" cy="190.2" r="3.6"/><circle cx="321.7" cy="193.0" r="3.6"/><circle cx="322.5" cy="193.8" r="3.6"/><circle cx="322.7" cy="179.5" r="3.6"/><circle cx="322.9" cy="174.7" r="3.6"/><circle cx="323.0" cy="175.3" r="3.6"/><circle cx="324.3" cy="177.3" r="3.6"/><circle cx="324.4" cy="179.6" r="3.6"/><circle cx="324.8" cy="175.0" r="3.6"/><circle cx="324.4" cy="191.4" r="3.6"/><circle cx="325.9" cy="182.3" r="3.6"/><circle cx="325.4" cy="189.9" r="3.6"/><circle cx="326.3" cy="182.9" r="3.6"/><circle cx="326.1" cy="187.7" r="3.6"/><circle cx="327.2" cy="176.6" r="3.6"/><circle cx="326.8" cy="173.0" r="3.6"/><circle cx="327.6" cy="179.2" r="3.6"/><circle cx="327.6" cy="183.0" r="3.6"/><circle cx="328.4" cy="187.1" r="3.6"/><circle cx="328.6" cy="184.2" r="3.6"/><circle cx="329.2" cy="183.8" r="3.6"/><circle cx="329.3" cy="186.2" r="3.6"/><circle cx="329.7" cy="181.6" r="3.6"/><circle cx="329.9" cy="191.4" r="3.6"/><circle cx="330.6" cy="196.5" r="3.6"/><circle cx="330.6" cy="192.5" r="3.6"/><circle cx="331.5" cy="180.6" r="3.6"/><circle cx="331.5" cy="180.7" r="3.6"/><circle cx="332.1" cy="194.3" r="3.6"/><circle cx="332.0" cy="196.2" r="3.6"/><circle cx="333.4" cy="189.5" r="3.6"/><circle cx="333.0" cy="184.7" r="3.6"/><circle cx="334.1" cy="190.1" r="3.6"/><circle cx="333.4" cy="196.4" r="3.6"/><circle cx="334.7" cy="196.6" r="3.6"/><circle cx="334.7" cy="186.6" r="3.6"/><circle cx="335.4" cy="185.8" r="3.6"/><circle cx="335.6" cy="186.4" r="3.6"/><circle cx="335.8" cy="196.6" r="3.6"/><circle cx="336.7" cy="195.7" r="3.6"/><circle cx="337.5" cy="187.3" r="3.6"/><circle cx="337.9" cy="194.6" r="3.6"/><circle cx="338.7" cy="187.7" r="3.6"/><circle cx="339.1" cy="194.5" r="3.6"/><circle cx="339.4" cy="198.8" r="3.6"/><circle cx="339.8" cy="199.6" r="3.6"/><circle cx="340.6" cy="188.2" r="3.6"/><circle cx="340.7" cy="195.7" r="3.6"/><circle cx="341.3" cy="189.0" r="3.6"/><circle cx="341.0" cy="189.1" r="3.6"/><circle cx="342.1" cy="204.2" r="3.6"/><circle cx="341.9" cy="207.4" r="3.6"/><circle cx="343.1" cy="191.5" r="3.6"/><circle cx="342.7" cy="196.4" r="3.6"/><circle cx="343.5" cy="210.1" r="3.6"/><circle cx="343.1" cy="210.7" r="3.6"/><circle cx="344.4" cy="203.0" r="3.6"/><circle cx="344.5" cy="196.9" r="3.6"/><circle cx="344.8" cy="193.5" r="3.6"/><circle cx="345.2" cy="196.0" r="3.6"/><circle cx="345.4" cy="207.9" r="3.6"/><circle cx="346.0" cy="196.2" r="3.6"/><circle cx="346.8" cy="206.7" r="3.6"/><circle cx="346.7" cy="197.1" r="3.6"/><circle cx="346.4" cy="199.8" r="3.6"/><circle cx="347.3" cy="210.2" r="3.6"/><circle cx="346.9" cy="211.0" r="3.6"/><circle cx="348.3" cy="202.0" r="3.6"/><circle cx="347.8" cy="209.6" r="3.6"/><circle cx="348.5" cy="210.1" r="3.6"/><circle cx="348.7" cy="205.2" r="3.6"/><circle cx="349.2" cy="217.1" r="3.6"/><circle cx="349.6" cy="211.5" r="3.6"/><circle cx="350.3" cy="213.2" r="3.6"/><circle cx="350.6" cy="195.5" r="3.6"/><circle cx="350.8" cy="200.0" r="3.6"/><circle cx="350.7" cy="198.2" r="3.6"/><circle cx="351.2" cy="214.4" r="3.6"/><circle cx="351.5" cy="205.3" r="3.6"/><circle cx="351.8" cy="212.0" r="3.6"/><circle cx="352.7" cy="215.2" r="3.6"/><circle cx="352.5" cy="203.1" r="3.6"/><circle cx="353.2" cy="208.8" r="3.6"/><circle cx="353.6" cy="195.8" r="3.6"/><circle cx="354.0" cy="214.8" r="3.6"/><circle cx="354.0" cy="215.7" r="3.6"/><circle cx="354.5" cy="192.0" r="3.6"/><circle cx="354.7" cy="205.0" r="3.6"/><circle cx="355.5" cy="198.2" r="3.6"/><circle cx="355.7" cy="196.5" r="3.6"/><circle cx="356.0" cy="208.1" r="3.6"/><circle cx="356.0" cy="203.8" r="3.6"/><circle cx="357.0" cy="200.5" r="3.6"/><circle cx="357.1" cy="219.1" r="3.6"/><circle cx="357.9" cy="216.4" r="3.6"/><circle cx="358.1" cy="207.1" r="3.6"/><circle cx="358.1" cy="219.6" r="3.6"/><circle cx="358.3" cy="223.7" r="3.6"/><circle cx="358.9" cy="196.2" r="3.6"/><circle cx="359.2" cy="220.9" r="3.6"/><circle cx="359.3" cy="200.9" r="3.6"/><circle cx="360.2" cy="216.7" r="3.6"/><circle cx="359.7" cy="222.1" r="3.6"/><circle cx="360.5" cy="214.6" r="3.6"/><circle cx="360.5" cy="200.4" r="3.6"/><circle cx="361.1" cy="209.6" r="3.6"/><circle cx="361.7" cy="199.3" r="3.6"/><circle cx="361.1" cy="200.3" r="3.6"/><circle cx="361.2" cy="219.4" r="3.6"/><circle cx="362.0" cy="214.8" r="3.6"/><circle cx="362.0" cy="198.6" r="3.6"/><circle cx="361.9" cy="215.1" r="3.6"/><circle cx="363.3" cy="212.5" r="3.6"/><circle cx="363.0" cy="208.1" r="3.6"/><circle cx="363.0" cy="198.3" r="3.6"/><circle cx="363.5" cy="200.3" r="3.6"/><circle cx="363.9" cy="204.3" r="3.6"/><circle cx="364.8" cy="210.6" r="3.6"/><circle cx="364.8" cy="199.2" r="3.6"/><circle cx="364.4" cy="203.9" r="3.6"/><circle cx="364.9" cy="199.6" r="3.6"/><circle cx="365.4" cy="218.6" r="3.6"/><circle cx="365.5" cy="209.5" r="3.6"/><circle cx="366.0" cy="226.9" r="3.6"/><circle cx="366.1" cy="201.5" r="3.6"/><circle cx="365.7" cy="215.7" r="3.6"/><circle cx="366.9" cy="217.5" r="3.6"/><circle cx="366.5" cy="221.6" r="3.6"/><circle cx="366.4" cy="201.3" r="3.6"/><circle cx="367.2" cy="204.0" r="3.6"/><circle cx="367.6" cy="214.6" r="3.6"/><circle cx="367.1" cy="212.5" r="3.6"/><circle cx="368.5" cy="224.0" r="3.6"/><circle cx="367.9" cy="207.1" r="3.6"/><circle cx="368.4" cy="204.3" r="3.6"/><circle cx="368.7" cy="216.7" r="3.6"/><circle cx="369.2" cy="218.3" r="3.6"/><circle cx="368.7" cy="226.2" r="3.6"/><circle cx="370.1" cy="207.3" r="3.6"/><circle cx="369.5" cy="225.5" r="3.6"/><circle cx="370.1" cy="208.1" r="3.6"/><circle cx="370.2" cy="224.3" r="3.6"/><circle cx="370.3" cy="218.8" r="3.6"/><circle cx="371.0" cy="206.9" r="3.6"/><circle cx="371.3" cy="207.6" r="3.6"/><circle cx="372.2" cy="204.4" r="3.6"/><circle cx="372.3" cy="203.8" r="3.6"/><circle cx="373.1" cy="209.0" r="3.6"/><circle cx="372.9" cy="221.2" r="3.6"/><circle cx="373.2" cy="219.7" r="3.6"/><circle cx="373.4" cy="204.8" r="3.6"/><circle cx="374.0" cy="205.4" r="3.6"/><circle cx="374.1" cy="223.1" r="3.6"/><circle cx="374.3" cy="206.3" r="3.6"/><circle cx="374.9" cy="219.7" r="3.6"/><circle cx="374.9" cy="224.0" r="3.6"/><circle cx="375.9" cy="203.8" r="3.6"/><circle cx="375.4" cy="217.3" r="3.6"/><circle cx="376.5" cy="206.0" r="3.6"/><circle cx="376.6" cy="216.2" r="3.6"/><circle cx="376.8" cy="208.5" r="3.6"/><circle cx="377.2" cy="205.7" r="3.6"/><circle cx="377.0" cy="205.9" r="3.6"/><circle cx="377.2" cy="214.9" r="3.6"/><circle cx="377.9" cy="214.6" r="3.6"/><circle cx="378.0" cy="213.2" r="3.6"/><circle cx="378.7" cy="224.3" r="3.6"/><circle cx="378.7" cy="206.0" r="3.6"/><circle cx="379.3" cy="205.3" r="3.6"/><circle cx="379.1" cy="203.7" r="3.6"/><circle cx="380.4" cy="207.8" r="3.6"/><circle cx="380.4" cy="203.7" r="3.6"/><circle cx="380.4" cy="216.8" r="3.6"/><circle cx="381.3" cy="209.2" r="3.6"/><circle cx="381.0" cy="224.6" r="3.6"/><circle cx="381.4" cy="203.9" r="3.6"/><circle cx="381.8" cy="225.5" r="3.6"/><circle cx="381.8" cy="214.1" r="3.6"/><circle cx="382.6" cy="224.6" r="3.6"/><circle cx="382.5" cy="210.4" r="3.6"/><circle cx="382.9" cy="226.0" r="3.6"/><circle cx="383.6" cy="224.6" r="3.6"/><circle cx="383.0" cy="217.9" r="3.6"/><circle cx="383.9" cy="207.3" r="3.6"/><circle cx="383.6" cy="224.3" r="3.6"/><circle cx="384.7" cy="211.9" r="3.6"/><circle cx="384.4" cy="214.1" r="3.6"/><circle cx="385.7" cy="228.1" r="3.6"/><circle cx="385.3" cy="228.4" r="3.6"/><circle cx="386.5" cy="210.6" r="3.6"/><circle cx="386.0" cy="221.1" r="3.6"/><circle cx="387.4" cy="213.7" r="3.6"/><circle cx="387.1" cy="223.8" r="3.6"/><circle cx="388.0" cy="218.3" r="3.6"/><circle cx="387.4" cy="215.6" r="3.6"/><circle cx="388.2" cy="232.8" r="3.6"/><circle cx="388.5" cy="214.5" r="3.6"/><circle cx="388.8" cy="232.6" r="3.6"/><circle cx="389.1" cy="224.6" r="3.6"/><circle cx="389.2" cy="225.4" r="3.6"/><circle cx="389.4" cy="235.1" r="3.6"/><circle cx="389.9" cy="216.0" r="3.6"/><circle cx="389.9" cy="231.6" r="3.6"/><circle cx="389.8" cy="210.9" r="3.6"/><circle cx="391.0" cy="225.4" r="3.6"/><circle cx="390.6" cy="227.2" r="3.6"/><circle cx="390.4" cy="238.5" r="3.6"/><circle cx="391.3" cy="241.8" r="3.6"/><circle cx="391.7" cy="214.4" r="3.6"/><circle cx="391.3" cy="222.7" r="3.6"/><circle cx="392.2" cy="233.5" r="3.6"/><circle cx="392.0" cy="235.0" r="3.6"/><circle cx="392.3" cy="238.5" r="3.6"/><circle cx="392.0" cy="243.6" r="3.6"/><circle cx="393.0" cy="222.8" r="3.6"/><circle cx="393.1" cy="218.2" r="3.6"/><circle cx="393.2" cy="239.7" r="3.6"/><circle cx="393.2" cy="219.3" r="3.6"/><circle cx="394.0" cy="249.2" r="3.6"/><circle cx="393.5" cy="225.3" r="3.6"/><circle cx="394.1" cy="214.0" r="3.6"/><circle cx="393.5" cy="233.1" r="3.6"/><circle cx="394.6" cy="226.8" r="3.6"/><circle cx="394.3" cy="246.9" r="3.6"/><circle cx="394.4" cy="242.8" r="3.6"/><circle cx="394.7" cy="241.7" r="3.6"/><circle cx="395.1" cy="237.1" r="3.6"/><circle cx="395.5" cy="216.6" r="3.6"/><circle cx="395.6" cy="250.9" r="3.6"/><circle cx="394.9" cy="224.4" r="3.6"/><circle cx="396.0" cy="221.9" r="3.6"/><circle cx="395.7" cy="250.6" r="3.6"/><circle cx="396.1" cy="237.0" r="3.6"/><circle cx="396.2" cy="233.6" r="3.6"/><circle cx="397.1" cy="239.6" r="3.6"/><circle cx="396.5" cy="254.2" r="3.6"/><circle cx="396.8" cy="221.3" r="3.6"/><circle cx="397.1" cy="254.1" r="3.6"/><circle cx="397.6" cy="231.3" r="3.6"/><circle cx="397.5" cy="216.7" r="3.6"/><circle cx="397.8" cy="226.3" r="3.6"/><circle cx="397.8" cy="228.7" r="3.6"/><circle cx="398.0" cy="229.4" r="3.6"/><circle cx="397.9" cy="254.3" r="3.6"/><circle cx="398.4" cy="252.6" r="3.6"/><circle cx="398.6" cy="243.0" r="3.6"/><circle cx="398.4" cy="222.3" r="3.6"/><circle cx="398.7" cy="240.8" r="3.6"/><circle cx="398.7" cy="243.1" r="3.6"/><circle cx="399.3" cy="227.1" r="3.6"/><circle cx="398.8" cy="228.3" r="3.6"/><circle cx="399.6" cy="222.5" r="3.6"/><circle cx="399.4" cy="219.9" r="3.6"/><circle cx="399.8" cy="236.5" r="3.6"/><circle cx="399.6" cy="249.9" r="3.6"/><circle cx="400.5" cy="214.7" r="3.6"/><circle cx="400.6" cy="234.8" r="3.6"/><circle cx="400.6" cy="215.3" r="3.6"/><circle cx="400.3" cy="254.4" r="3.6"/><circle cx="401.4" cy="214.0" r="3.6"/><circle cx="401.5" cy="214.3" r="3.6"/><circle cx="401.3" cy="249.5" r="3.6"/><circle cx="401.4" cy="253.1" r="3.6"/><circle cx="401.8" cy="254.0" r="3.6"/><circle cx="402.1" cy="245.0" r="3.6"/><circle cx="401.9" cy="214.3" r="3.6"/><circle cx="402.2" cy="252.7" r="3.6"/><circle cx="402.7" cy="232.1" r="3.6"/><circle cx="402.4" cy="236.4" r="3.6"/><circle cx="402.9" cy="221.7" r="3.6"/><circle cx="402.5" cy="224.6" r="3.6"/><circle cx="403.7" cy="241.2" r="3.6"/><circle cx="403.3" cy="251.8" r="3.6"/><circle cx="403.3" cy="243.9" r="3.6"/><circle cx="404.3" cy="249.5" r="3.6"/><circle cx="404.2" cy="239.2" r="3.6"/><circle cx="404.5" cy="232.8" r="3.6"/><circle cx="404.0" cy="245.9" r="3.6"/><circle cx="404.8" cy="241.9" r="3.6"/><circle cx="404.7" cy="232.8" r="3.6"/><circle cx="404.8" cy="251.4" r="3.6"/><circle cx="404.8" cy="247.8" r="3.6"/><circle cx="405.8" cy="234.0" r="3.6"/><circle cx="406.0" cy="230.9" r="3.6"/><circle cx="406.1" cy="246.9" r="3.6"/><circle cx="406.0" cy="248.4" r="3.6"/><circle cx="406.4" cy="216.9" r="3.6"/><circle cx="406.2" cy="217.0" r="3.6"/><circle cx="406.7" cy="226.5" r="3.6"/><circle cx="406.6" cy="228.6" r="3.6"/><circle cx="407.2" cy="233.1" r="3.6"/><circle cx="407.5" cy="251.9" r="3.6"/><circle cx="407.4" cy="249.7" r="3.6"/><circle cx="408.3" cy="251.3" r="3.6"/><circle cx="407.9" cy="224.8" r="3.6"/><circle cx="407.8" cy="218.2" r="3.6"/><circle cx="408.6" cy="221.2" r="3.6"/><circle cx="408.9" cy="223.3" r="3.6"/><circle cx="408.7" cy="222.4" r="3.6"/><circle cx="409.6" cy="229.7" r="3.6"/><circle cx="409.6" cy="223.1" r="3.6"/><circle cx="409.3" cy="226.9" r="3.6"/><circle cx="410.5" cy="241.9" r="3.6"/><circle cx="409.9" cy="237.5" r="3.6"/><circle cx="410.6" cy="252.1" r="3.6"/><circle cx="410.5" cy="221.6" r="3.6"/><circle cx="411.3" cy="220.8" r="3.6"/><circle cx="411.1" cy="229.4" r="3.6"/><circle cx="411.0" cy="224.0" r="3.6"/><circle cx="412.0" cy="248.1" r="3.6"/><circle cx="411.5" cy="250.7" r="3.6"/><circle cx="411.9" cy="244.2" r="3.6"/><circle cx="412.2" cy="247.2" r="3.6"/><circle cx="412.8" cy="241.1" r="3.6"/><circle cx="412.7" cy="221.2" r="3.6"/><circle cx="413.3" cy="229.3" r="3.6"/><circle cx="413.6" cy="229.4" r="3.6"/><circle cx="413.8" cy="234.3" r="3.6"/><circle cx="413.7" cy="222.7" r="3.6"/><circle cx="415.1" cy="232.3" r="3.6"/><circle cx="414.7" cy="235.9" r="3.6"/><circle cx="415.6" cy="248.3" r="3.6"/><circle cx="415.4" cy="243.0" r="3.6"/><circle cx="416.5" cy="236.2" r="3.6"/><circle cx="416.0" cy="227.2" r="3.6"/><circle cx="417.2" cy="244.3" r="3.6"/><circle cx="417.0" cy="238.6" r="3.6"/><circle cx="417.9" cy="235.0" r="3.6"/><circle cx="418.0" cy="244.8" r="3.6"/><circle cx="418.4" cy="244.5" r="3.6"/><circle cx="419.6" cy="238.0" r="3.6"/><circle cx="420.3" cy="233.9" r="3.6"/><circle cx="420.0" cy="238.5" r="3.6"/><circle cx="420.4" cy="242.6" r="3.6"/><circle cx="420.5" cy="243.9" r="3.6"/><circle cx="421.6" cy="242.2" r="3.6"/><circle cx="422.6" cy="241.2" r="3.6"/><circle cx="422.2" cy="237.2" r="3.6"/><circle cx="422.7" cy="240.9" r="3.6"/><circle cx="423.7" cy="244.0" r="3.6"/><circle cx="424.6" cy="241.4" r="3.6"/><circle cx="425.5" cy="238.8" r="3.6"/><circle cx="426.3" cy="236.0" r="3.6"/><circle cx="427.1" cy="242.8" r="3.6"/><circle cx="427.4" cy="236.9" r="3.6"/><circle cx="428.1" cy="245.0" r="3.6"/><circle cx="429.1" cy="242.6" r="3.6"/><circle cx="429.4" cy="232.0" r="3.6"/><circle cx="430.8" cy="242.1" r="3.6"/><circle cx="431.4" cy="229.7" r="3.6"/><circle cx="431.5" cy="228.9" r="3.6"/><circle cx="432.1" cy="241.0" r="3.6"/><circle cx="432.3" cy="230.8" r="3.6"/><circle cx="433.0" cy="231.8" r="3.6"/><circle cx="433.2" cy="226.8" r="3.6"/><circle cx="433.3" cy="222.9" r="3.6"/><circle cx="434.1" cy="232.8" r="3.6"/><circle cx="434.3" cy="220.2" r="3.6"/><circle cx="434.2" cy="220.1" r="3.6"/><circle cx="435.1" cy="218.1" r="3.6"/><circle cx="435.2" cy="230.7" r="3.6"/><circle cx="435.8" cy="239.0" r="3.6"/><circle cx="436.0" cy="217.3" r="3.6"/><circle cx="435.5" cy="226.6" r="3.6"/><circle cx="436.3" cy="217.7" r="3.6"/><circle cx="436.8" cy="235.3" r="3.6"/><circle cx="436.9" cy="239.6" r="3.6"/><circle cx="437.0" cy="221.5" r="3.6"/><circle cx="438.3" cy="237.0" r="3.6"/><circle cx="438.3" cy="233.8" r="3.6"/><circle cx="437.8" cy="239.1" r="3.6"/><circle cx="438.6" cy="225.9" r="3.6"/><circle cx="439.0" cy="230.5" r="3.6"/><circle cx="439.2" cy="225.7" r="3.6"/><circle cx="439.7" cy="224.5" r="3.6"/><circle cx="440.5" cy="229.0" r="3.6"/><circle cx="440.1" cy="219.9" r="3.6"/><circle cx="440.8" cy="223.7" r="3.6"/><circle cx="440.9" cy="225.9" r="3.6"/><circle cx="441.9" cy="223.2" r="3.6"/><circle cx="441.5" cy="234.3" r="3.6"/><circle cx="441.6" cy="237.2" r="3.6"/><circle cx="442.6" cy="217.3" r="3.6"/><circle cx="442.4" cy="226.9" r="3.6"/><circle cx="442.5" cy="222.0" r="3.6"/><circle cx="443.1" cy="238.2" r="3.6"/><circle cx="443.4" cy="221.0" r="3.6"/><circle cx="443.0" cy="238.7" r="3.6"/><circle cx="444.0" cy="235.9" r="3.6"/><circle cx="443.7" cy="214.8" r="3.6"/><circle cx="444.4" cy="217.5" r="3.6"/><circle cx="444.9" cy="237.7" r="3.6"/><circle cx="444.8" cy="228.1" r="3.6"/><circle cx="444.9" cy="242.2" r="3.6"/><circle cx="445.2" cy="226.2" r="3.6"/><circle cx="445.5" cy="233.0" r="3.6"/><circle cx="445.8" cy="238.6" r="3.6"/><circle cx="446.6" cy="230.0" r="3.6"/><circle cx="446.2" cy="243.0" r="3.6"/><circle cx="446.1" cy="220.0" r="3.6"/><circle cx="447.2" cy="241.4" r="3.6"/><circle cx="446.7" cy="219.4" r="3.6"/><circle cx="447.1" cy="239.6" r="3.6"/><circle cx="447.4" cy="221.2" r="3.6"/><circle cx="447.4" cy="242.5" r="3.6"/><circle cx="448.1" cy="242.4" r="3.6"/><circle cx="448.6" cy="226.6" r="3.6"/><circle cx="448.2" cy="221.4" r="3.6"/><circle cx="448.7" cy="233.9" r="3.6"/><circle cx="449.1" cy="238.0" r="3.6"/><circle cx="449.3" cy="245.7" r="3.6"/><circle cx="450.0" cy="242.5" r="3.6"/><circle cx="449.9" cy="219.6" r="3.6"/><circle cx="450.3" cy="221.9" r="3.6"/><circle cx="450.8" cy="243.7" r="3.6"/><circle cx="450.9" cy="244.7" r="3.6"/><circle cx="450.5" cy="224.4" r="3.6"/><circle cx="451.2" cy="226.3" r="3.6"/><circle cx="451.9" cy="245.8" r="3.6"/><circle cx="451.5" cy="231.7" r="3.6"/><circle cx="452.4" cy="237.1" r="3.6"/><circle cx="452.3" cy="236.7" r="3.6"/><circle cx="452.0" cy="245.0" r="3.6"/><circle cx="453.3" cy="223.1" r="3.6"/><circle cx="453.2" cy="242.5" r="3.6"/><circle cx="453.5" cy="240.4" r="3.6"/><circle cx="453.6" cy="223.2" r="3.6"/><circle cx="454.8" cy="235.0" r="3.6"/><circle cx="454.7" cy="229.2" r="3.6"/><circle cx="455.0" cy="226.6" r="3.6"/><circle cx="454.9" cy="219.5" r="3.6"/><circle cx="496.8" cy="217.4" r="3.6"/><circle cx="496.4" cy="226.0" r="3.6"/><circle cx="497.0" cy="217.6" r="3.6"/><circle cx="497.5" cy="227.3" r="3.6"/><circle cx="497.9" cy="225.8" r="3.6"/><circle cx="498.1" cy="216.2" r="3.6"/><circle cx="498.8" cy="219.8" r="3.6"/><circle cx="499.6" cy="221.0" r="3.6"/><circle cx="500.1" cy="228.9" r="3.6"/><circle cx="501.2" cy="217.1" r="3.6"/><circle cx="500.6" cy="226.8" r="3.6"/><circle cx="501.7" cy="223.6" r="3.6"/><circle cx="502.7" cy="221.6" r="3.6"/><circle cx="503.2" cy="219.3" r="3.6"/><circle cx="503.4" cy="221.8" r="3.6"/><circle cx="504.3" cy="219.0" r="3.6"/><circle cx="503.8" cy="217.2" r="3.6"/><circle cx="504.6" cy="219.3" r="3.6"/><circle cx="504.9" cy="222.5" r="3.6"/><circle cx="505.6" cy="230.8" r="3.6"/><circle cx="506.0" cy="227.1" r="3.6"/><circle cx="506.2" cy="225.8" r="3.6"/><circle cx="507.2" cy="219.3" r="3.6"/><circle cx="507.6" cy="227.6" r="3.6"/><circle cx="508.4" cy="222.2" r="3.6"/><circle cx="510.3" cy="227.0" r="3.6"/><circle cx="510.9" cy="222.0" r="3.6"/><circle cx="511.4" cy="225.1" r="3.6"/><circle cx="512.5" cy="221.4" r="3.6"/><circle cx="512.8" cy="224.8" r="3.6"/><circle cx="513.9" cy="224.3" r="3.6"/><circle cx="514.4" cy="220.5" r="3.6"/><circle cx="515.2" cy="222.2" r="3.6"/><circle cx="515.9" cy="225.9" r="3.6"/><circle cx="516.8" cy="224.1" r="3.6"/><circle cx="517.4" cy="222.4" r="3.6"/><circle cx="518.2" cy="222.1" r="3.6"/><circle cx="518.8" cy="226.4" r="3.6"/><circle cx="519.5" cy="223.6" r="3.6"/><circle cx="520.8" cy="226.1" r="3.6"/><circle cx="521.6" cy="224.2" r="3.6"/><circle cx="522.2" cy="227.2" r="3.6"/><circle cx="522.8" cy="224.4" r="3.6"/><circle cx="523.2" cy="227.1" r="3.6"/><circle cx="523.9" cy="224.3" r="3.6"/><circle cx="525.3" cy="224.2" r="3.6"/><circle cx="525.6" cy="226.5" r="3.6"/><circle cx="526.4" cy="225.5" r="3.6"/><circle cx="527.4" cy="226.3" r="3.6"/><circle cx="527.6" cy="225.0" r="3.6"/><circle cx="528.5" cy="226.7" r="3.6"/><circle cx="529.2" cy="226.1" r="3.6"/><circle cx="530.5" cy="224.9" r="3.6"/><circle cx="530.9" cy="219.9" r="3.6"/><circle cx="531.5" cy="223.3" r="3.6"/><circle cx="532.8" cy="224.3" r="3.6"/><circle cx="533.1" cy="224.2" r="3.6"/><circle cx="533.8" cy="222.9" r="3.6"/><circle cx="534.8" cy="223.0" r="3.6"/><circle cx="535.4" cy="221.6" r="3.6"/><circle cx="536.2" cy="219.1" r="3.6"/><circle cx="536.7" cy="222.4" r="3.6"/><circle cx="538.0" cy="223.9" r="3.6"/><circle cx="538.2" cy="220.2" r="3.6"/><circle cx="539.4" cy="222.7" r="3.6"/><circle cx="540.0" cy="220.7" r="3.6"/><circle cx="541.0" cy="220.5" r="3.6"/><circle cx="541.6" cy="223.9" r="3.6"/><circle cx="456.6" cy="240.3" r="3.6"/><circle cx="447.8" cy="237.9" r="3.6"/><circle cx="448.7" cy="237.4" r="3.6"/><circle cx="449.6" cy="237.7" r="3.6"/><circle cx="453.6" cy="237.4" r="3.6"/><circle cx="455.7" cy="238.0" r="3.6"/><circle cx="450.4" cy="236.0" r="3.6"/><circle cx="459.9" cy="238.6" r="3.6"/><circle cx="460.4" cy="238.0" r="3.6"/><circle cx="456.6" cy="237.0" r="3.6"/><circle cx="456.9" cy="236.1" r="3.6"/><circle cx="455.9" cy="235.8" r="3.6"/><circle cx="452.5" cy="234.6" r="3.6"/><circle cx="460.4" cy="236.8" r="3.6"/><circle cx="456.0" cy="234.5" r="3.6"/><circle cx="453.5" cy="233.8" r="3.6"/><circle cx="455.6" cy="234.2" r="3.6"/><circle cx="451.8" cy="233.1" r="3.6"/><circle cx="462.1" cy="234.8" r="3.6"/><circle cx="453.1" cy="232.3" r="3.6"/><circle cx="454.9" cy="232.6" r="3.6"/><circle cx="456.5" cy="233.0" r="3.6"/><circle cx="455.2" cy="231.3" r="3.6"/><circle cx="451.2" cy="230.2" r="3.6"/><circle cx="456.8" cy="231.5" r="3.6"/><circle cx="451.9" cy="229.0" r="3.6"/><circle cx="461.8" cy="231.7" r="3.6"/><circle cx="455.6" cy="229.4" r="3.6"/><circle cx="452.8" cy="228.6" r="3.6"/><circle cx="461.8" cy="230.7" r="3.6"/><circle cx="457.4" cy="229.5" r="3.6"/><circle cx="454.6" cy="227.8" r="3.6"/><circle cx="453.1" cy="227.3" r="3.6"/><circle cx="453.2" cy="226.2" r="3.6"/><circle cx="454.3" cy="225.6" r="3.6"/><circle cx="453.6" cy="225.4" r="3.6"/><circle cx="458.7" cy="226.7" r="3.6"/><circle cx="457.3" cy="225.0" r="3.6"/><circle cx="456.7" cy="224.8" r="3.6"/><circle cx="457.8" cy="224.3" r="3.6"/><circle cx="461.8" cy="225.3" r="3.6"/><circle cx="455.1" cy="223.1" r="3.6"/><circle cx="457.3" cy="223.3" r="3.6"/><circle cx="462.8" cy="225.2" r="3.6"/><circle cx="461.4" cy="223.4" r="3.6"/><circle cx="463.9" cy="223.5" r="3.6"/><circle cx="457.3" cy="221.0" r="3.6"/><circle cx="463.8" cy="222.1" r="3.6"/><circle cx="459.9" cy="219.8" r="3.6"/><circle cx="458.4" cy="219.3" r="3.6"/><circle cx="462.7" cy="218.7" r="3.6"/><circle cx="462.2" cy="219.4" r="3.6"/><circle cx="461.0" cy="221.3" r="3.6"/><circle cx="464.2" cy="218.1" r="3.6"/><circle cx="465.2" cy="218.4" r="3.6"/><circle cx="464.9" cy="218.9" r="3.6"/><circle cx="464.5" cy="220.7" r="3.6"/><circle cx="467.0" cy="221.5" r="3.6"/><circle cx="461.2" cy="224.0" r="3.6"/><circle cx="464.0" cy="223.6" r="3.6"/><circle cx="461.0" cy="224.6" r="3.6"/><circle cx="468.2" cy="223.6" r="3.6"/><circle cx="467.8" cy="224.4" r="3.6"/><circle cx="463.0" cy="226.5" r="3.6"/><circle cx="463.6" cy="226.3" r="3.6"/><circle cx="467.3" cy="226.1" r="3.6"/><circle cx="468.5" cy="226.5" r="3.6"/><circle cx="466.6" cy="227.1" r="3.6"/><circle cx="465.2" cy="228.2" r="3.6"/><circle cx="465.2" cy="228.1" r="3.6"/><circle cx="467.2" cy="228.0" r="3.6"/><circle cx="464.2" cy="230.2" r="3.6"/><circle cx="467.1" cy="229.2" r="3.6"/><circle cx="466.5" cy="230.0" r="3.6"/><circle cx="469.9" cy="229.5" r="3.6"/><circle cx="470.7" cy="230.0" r="3.6"/><circle cx="465.1" cy="232.5" r="3.6"/><circle cx="465.7" cy="233.5" r="3.6"/><circle cx="469.0" cy="232.9" r="3.6"/><circle cx="470.7" cy="233.4" r="3.6"/><circle cx="466.5" cy="235.7" r="3.6"/><circle cx="468.9" cy="235.4" r="3.6"/><circle cx="468.3" cy="236.4" r="3.6"/><circle cx="466.4" cy="237.0" r="3.6"/><circle cx="469.0" cy="237.0" r="3.6"/><circle cx="466.4" cy="238.8" r="3.6"/><circle cx="470.3" cy="237.5" r="3.6"/><circle cx="469.7" cy="237.9" r="3.6"/><circle cx="472.4" cy="238.0" r="3.6"/><circle cx="469.7" cy="239.8" r="3.6"/><circle cx="470.2" cy="239.7" r="3.6"/><circle cx="472.8" cy="240.8" r="3.6"/><circle cx="467.2" cy="237.8" r="3.6"/><circle cx="470.1" cy="239.1" r="3.6"/><circle cx="474.5" cy="239.5" r="3.6"/><circle cx="471.2" cy="238.0" r="3.6"/><circle cx="468.8" cy="236.9" r="3.6"/><circle cx="469.9" cy="236.0" r="3.6"/><circle cx="473.5" cy="237.2" r="3.6"/><circle cx="473.7" cy="236.2" r="3.6"/><circle cx="469.9" cy="233.3" r="3.6"/><circle cx="471.4" cy="234.0" r="3.6"/><circle cx="469.3" cy="232.6" r="3.6"/><circle cx="470.5" cy="233.2" r="3.6"/><circle cx="473.6" cy="233.8" r="3.6"/><circle cx="472.6" cy="232.9" r="3.6"/><circle cx="475.9" cy="233.9" r="3.6"/><circle cx="476.4" cy="232.7" r="3.6"/><circle cx="475.5" cy="231.6" r="3.6"/><circle cx="474.3" cy="230.9" r="3.6"/><circle cx="470.6" cy="229.6" r="3.6"/><circle cx="477.2" cy="230.8" r="3.6"/><circle cx="477.3" cy="230.2" r="3.6"/><circle cx="477.1" cy="230.2" r="3.6"/><circle cx="475.9" cy="228.6" r="3.6"/><circle cx="473.1" cy="227.4" r="3.6"/><circle cx="476.4" cy="228.5" r="3.6"/><circle cx="474.9" cy="227.2" r="3.6"/><circle cx="472.6" cy="225.6" r="3.6"/><circle cx="478.7" cy="226.8" r="3.6"/><circle cx="475.3" cy="225.7" r="3.6"/><circle cx="476.3" cy="225.4" r="3.6"/><circle cx="474.8" cy="224.9" r="3.6"/><circle cx="475.0" cy="224.3" r="3.6"/><circle cx="476.4" cy="224.8" r="3.6"/><circle cx="479.2" cy="224.8" r="3.6"/><circle cx="476.3" cy="222.6" r="3.6"/><circle cx="475.9" cy="222.0" r="3.6"/><circle cx="474.9" cy="221.3" r="3.6"/><circle cx="478.6" cy="221.9" r="3.6"/><circle cx="478.5" cy="220.8" r="3.6"/><circle cx="478.2" cy="220.2" r="3.6"/><circle cx="477.8" cy="220.0" r="3.6"/><circle cx="480.1" cy="219.6" r="3.6"/><circle cx="478.7" cy="218.9" r="3.6"/><circle cx="476.0" cy="217.9" r="3.6"/><circle cx="477.3" cy="217.6" r="3.6"/><circle cx="477.0" cy="217.5" r="3.6"/><circle cx="477.6" cy="216.6" r="3.6"/><circle cx="475.1" cy="215.1" r="3.6"/><circle cx="478.7" cy="215.1" r="3.6"/><circle cx="480.2" cy="216.2" r="3.6"/><circle cx="480.0" cy="213.8" r="3.6"/><circle cx="479.9" cy="212.6" r="3.6"/><circle cx="483.9" cy="215.9" r="3.6"/><circle cx="484.2" cy="211.9" r="3.6"/><circle cx="483.0" cy="213.5" r="3.6"/><circle cx="483.6" cy="214.9" r="3.6"/><circle cx="483.5" cy="216.3" r="3.6"/><circle cx="486.3" cy="213.0" r="3.6"/><circle cx="483.7" cy="216.6" r="3.6"/><circle cx="483.2" cy="217.4" r="3.6"/><circle cx="487.0" cy="215.9" r="3.6"/><circle cx="488.4" cy="215.1" r="3.6"/><circle cx="483.2" cy="219.5" r="3.6"/><circle cx="487.8" cy="216.7" r="3.6"/><circle cx="487.4" cy="217.4" r="3.6"/><circle cx="487.3" cy="218.3" r="3.6"/><circle cx="489.5" cy="217.0" r="3.6"/><circle cx="488.3" cy="218.5" r="3.6"/><circle cx="485.1" cy="221.3" r="3.6"/><circle cx="486.4" cy="221.3" r="3.6"/><circle cx="490.3" cy="220.5" r="3.6"/><circle cx="487.1" cy="222.4" r="3.6"/><circle cx="489.5" cy="222.7" r="3.6"/><circle cx="487.8" cy="223.7" r="3.6"/><circle cx="490.2" cy="223.7" r="3.6"/><circle cx="489.9" cy="224.5" r="3.6"/><circle cx="488.1" cy="226.6" r="3.6"/><circle cx="487.8" cy="227.3" r="3.6"/><circle cx="493.3" cy="225.3" r="3.6"/><circle cx="492.3" cy="228.8" r="3.6"/><circle cx="492.6" cy="227.1" r="3.6"/><circle cx="492.7" cy="227.2" r="3.6"/><circle cx="492.6" cy="226.6" r="3.6"/><circle cx="493.4" cy="225.4" r="3.6"/><circle cx="494.0" cy="225.4" r="3.6"/><circle cx="493.6" cy="224.3" r="3.6"/><circle cx="493.5" cy="223.7" r="3.6"/><circle cx="492.2" cy="222.4" r="3.6"/><circle cx="497.0" cy="222.9" r="3.6"/><circle cx="492.0" cy="220.8" r="3.6"/><circle cx="495.3" cy="220.9" r="3.6"/><circle cx="494.5" cy="220.1" r="3.6"/><circle cx="492.1" cy="217.5" r="3.6"/><circle cx="496.4" cy="220.4" r="3.6"/><circle cx="494.0" cy="218.1" r="3.6"/><circle cx="498.8" cy="220.1" r="3.6"/><circle cx="494.4" cy="216.1" r="3.6"/><circle cx="494.8" cy="216.4" r="3.6"/><circle cx="494.4" cy="215.8" r="3.6"/><circle cx="493.5" cy="215.2" r="3.6"/><circle cx="412.4" cy="265.3" r="3.6"/><circle cx="353.8" cy="181.1" r="3.6"/><circle cx="342.2" cy="224.4" r="3.6"/><circle cx="364.7" cy="233.6" r="3.6"/><circle cx="303.0" cy="159.0" r="3.6"/><circle cx="482.6" cy="204.2" r="3.6"/><circle cx="308.2" cy="192.4" r="3.6"/></g></g><g fill="none" stroke="#000"><rect x="58.5" y="15.5" width="487" height="364" stroke-width="3"/><path d="M58.5 378V372.8 M105.5 378V376 M133.0 378V376 M152.5 378V376 M167.7 378V376 M180.0 378V376 M190.5 378V376 M199.6 378V376 M207.6 378V376 M214.7 378V372.8 M261.7 378V376 M289.2 378V376 M308.7 378V376 M323.9 378V376 M336.2 378V376 M346.7 378V376 M355.8 378V376 M363.8 378V376 M370.9 378V372.8 M417.9 378V376 M445.4 378V376 M464.9 378V376 M480.1 378V376 M492.4 378V376 M502.9 378V376 M512.0 378V376 M520.0 378V376 M527.1 378V372.8" stroke-width="3"/><path d="M60 84.0H62 M60 66.6H62 M60 54.3H62 M60 44.7H62 M60 36.9H62 M60 30.3H62 M60 24.6H62 M60 19.5H62 M60 113.7H65 M60 182.6H62 M60 165.2H62 M60 152.9H62 M60 143.3H62 M60 135.5H62 M60 128.9H62 M60 123.2H62 M60 118.2H62 M60 212.3H65 M60 281.3H62 M60 263.9H62 M60 251.6H62 M60 242.0H62 M60 234.2H62 M60 227.6H62 M60 221.9H62 M60 216.8H62 M60 311.0H65 M60 362.5H62 M60 350.2H62 M60 340.6H62 M60 332.8H62 M60 326.2H62 M60 320.5H62 M60 315.5H62" stroke-width="2.6"/></g><g style="font-family:'Liberation Serif','Times New Roman',serif;font-weight:bold" fill="#000"><text transform="translate(43.9 407.6) scale(1 1.06)" font-size="21.5">10</text><text transform="translate(65.9 398.6) scale(1 1.12)" font-size="13.6">0</text><text transform="translate(200.1 407.6) scale(1 1.06)" font-size="21.5">10</text><text transform="translate(222.1 398.6) scale(1 1.12)" font-size="13.6">1</text><text transform="translate(356.3 407.6) scale(1 1.06)" font-size="21.5">10</text><text transform="translate(378.3 398.6) scale(1 1.12)" font-size="13.6">2</text><text transform="translate(512.5 407.6) scale(1 1.06)" font-size="21.5">10</text><text transform="translate(534.5 398.6) scale(1 1.12)" font-size="13.6">3</text><text transform="translate(43.6 23.8) scale(1 1.06)" font-size="21.5" text-anchor="end">10</text><text transform="translate(44.4 14.9) scale(1 1.12)" font-size="13.6">0</text><text transform="translate(38.5 121.2) scale(1 1.06)" font-size="21.5" text-anchor="end">10</text><text transform="translate(39.6 112.3) scale(1 1.12)" font-size="13.6">-1</text><text transform="translate(38.5 220.5) scale(1 1.06)" font-size="21.5" text-anchor="end">10</text><text transform="translate(39.6 211.6) scale(1 1.12)" font-size="13.6">-2</text><text transform="translate(38.5 319.0) scale(1 1.06)" font-size="21.5" text-anchor="end">10</text><text transform="translate(39.6 310.1) scale(1 1.12)" font-size="13.6">-3</text><text transform="translate(277.2 418.5) scale(1 1.06)" font-size="21.5">time/s</text><text transform="translate(18.4 287.6) rotate(-90)" font-size="21.2">Allan variance/ppm</text><text transform="translate(217.3 46.0) scale(1 1.06)" font-size="21.5">Concentration from original signal</text><text transform="translate(217.3 73.4) scale(1 1.06)" font-size="21.5">Concentration from denoising data</text><text transform="translate(400.5 198.6) scale(1 1.06)" font-size="21.5">2.31ppb@185s</text><text transform="translate(238.5 351.5) scale(1 1.06)" font-size="21.5">0.53ppb@230s</text></g><path d="M162.5 37.9H212" stroke="#0000ff" stroke-width="1.5"/><circle cx="186.9" cy="38" r="3.3" fill="url(#gb)"/><path d="M162.5 65.6H212" stroke="#ff0000" stroke-width="1.5"/><circle cx="186.8" cy="65.6" r="3.3" fill="url(#gr)"/><path d="M425.6 203.1L418 243" stroke="#000" stroke-width="1.4"/><path d="M412.8 263.4L412.6 241.5L423.5 243.8Z" fill="#000"/><path d="M370.7 346.4L406 354" stroke="#000" stroke-width="1.4"/><path d="M428 357.9L404.5 359.2L407 348.8Z" fill="#000"/></svg></body></html>
